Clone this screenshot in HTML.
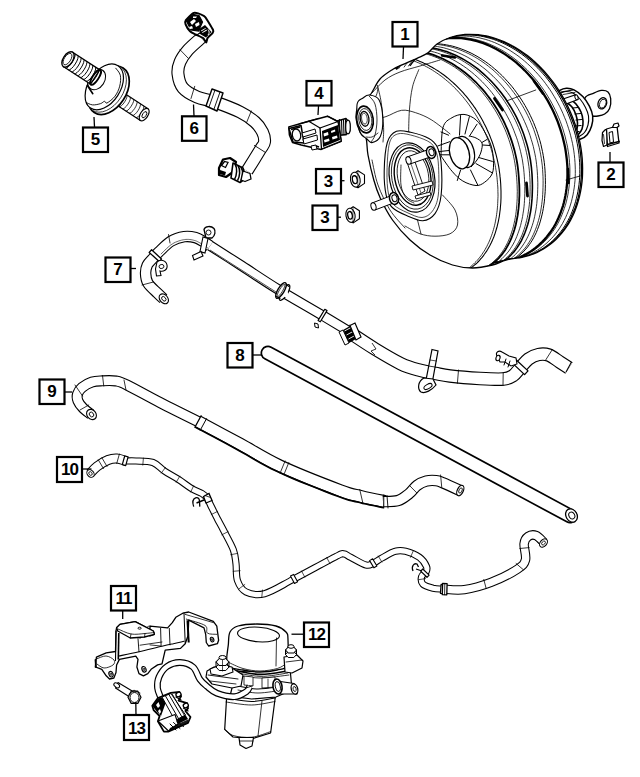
<!DOCTYPE html>
<html><head><meta charset="utf-8">
<style>
html,body{margin:0;padding:0;background:#fff;overflow:hidden;width:640px;height:777px;}
svg{display:block;}
.lb rect{fill:#fff;stroke:#000;stroke-width:2.2;}
.lb text{font-family:"Liberation Sans",sans-serif;font-weight:bold;font-size:17px;fill:#000;text-anchor:middle;}
.ln{stroke:#000;stroke-width:1.3;fill:none;}
.p{fill:#fff;stroke:#000;stroke-width:1.1;stroke-linejoin:round;stroke-linecap:round;}
.o{fill:none;stroke:#000;stroke-width:1.1;stroke-linejoin:round;stroke-linecap:round;}
.t{fill:none;stroke:#000;stroke-width:0.8;stroke-linecap:round;stroke-linejoin:round;}
.h{fill:none;stroke:#000;stroke-width:1.6;stroke-linecap:round;stroke-linejoin:round;}
.k{fill:#000;stroke:none;}
</style></head>
<body>
<svg width="640" height="777" viewBox="0 0 640 777">
<g><path d="M268,353 L570,516" stroke="#000" stroke-width="15" stroke-linecap="round"/><path d="M268,353 L570,516" stroke="#fff" stroke-width="11.6" stroke-linecap="round"/><ellipse cx="571.5" cy="515.5" rx="5.5" ry="7" transform="rotate(-30 571.5 515.5)" fill="#fff" stroke="#000" stroke-width="1.3"/>
<ellipse cx="571.8" cy="515.5" rx="2.8" ry="3.6" transform="rotate(-30 571.8 515.5)" fill="#fff" stroke="#000" stroke-width="1.0"/>
</g>
<path d="M91.0,414.5C89.7,413.4 85.2,410.2 83.0,408.0C80.8,405.8 78.9,403.3 78.0,401.0C77.1,398.7 76.8,396.2 77.5,394.0C78.2,391.8 79.6,389.5 82.0,387.5C84.4,385.5 88.6,383.1 92.0,382.0C95.4,380.9 98.5,381.0 102.5,380.8C106.5,380.6 111.9,380.3 116.0,381.0C120.1,381.7 119.7,381.4 127.0,385.0C134.3,388.6 147.8,396.2 160.0,402.5C172.2,408.8 193.3,419.2 200.0,422.5" fill="none" stroke="#000" stroke-width="11.0" stroke-linecap="butt" stroke-linejoin="round"/>
<path d="M91.0,414.5C89.7,413.4 85.2,410.2 83.0,408.0C80.8,405.8 78.9,403.3 78.0,401.0C77.1,398.7 76.8,396.2 77.5,394.0C78.2,391.8 79.6,389.5 82.0,387.5C84.4,385.5 88.6,383.1 92.0,382.0C95.4,380.9 98.5,381.0 102.5,380.8C106.5,380.6 111.9,380.3 116.0,381.0C120.1,381.7 119.7,381.4 127.0,385.0C134.3,388.6 147.8,396.2 160.0,402.5C172.2,408.8 193.3,419.2 200.0,422.5" fill="none" stroke="#fff" stroke-width="8.8" stroke-linecap="butt" stroke-linejoin="round"/>
<path d="M198.0,421.5C205.0,425.2 226.3,436.6 240.0,444.0C253.7,451.4 263.3,458.2 280.0,466.0C296.7,473.8 326.5,485.4 340.0,490.5C353.5,495.6 353.5,494.6 361.0,496.5C368.5,498.4 381.0,500.8 385.0,501.6" fill="none" stroke="#000" stroke-width="13.0" stroke-linecap="butt" stroke-linejoin="round"/>
<path d="M198.0,421.5C205.0,425.2 226.3,436.6 240.0,444.0C253.7,451.4 263.3,458.2 280.0,466.0C296.7,473.8 326.5,485.4 340.0,490.5C353.5,495.6 353.5,494.6 361.0,496.5C368.5,498.4 381.0,500.8 385.0,501.6" fill="none" stroke="#fff" stroke-width="10.7" stroke-linecap="butt" stroke-linejoin="round"/>
<path d="M383.0,501.6C385.5,501.4 393.7,501.9 398.0,500.6C402.3,499.3 405.8,496.2 409.0,493.7C412.2,491.2 414.1,487.6 417.0,485.5C419.9,483.4 423.2,481.8 426.4,481.0C429.6,480.2 433.2,480.3 436.0,480.6C438.8,480.9 438.8,481.1 443.0,482.8C447.2,484.5 458.0,489.6 461.0,491.0" fill="none" stroke="#000" stroke-width="11.5" stroke-linecap="butt" stroke-linejoin="round"/>
<path d="M383.0,501.6C385.5,501.4 393.7,501.9 398.0,500.6C402.3,499.3 405.8,496.2 409.0,493.7C412.2,491.2 414.1,487.6 417.0,485.5C419.9,483.4 423.2,481.8 426.4,481.0C429.6,480.2 433.2,480.3 436.0,480.6C438.8,480.9 438.8,481.1 443.0,482.8C447.2,484.5 458.0,489.6 461.0,491.0" fill="none" stroke="#fff" stroke-width="9.3" stroke-linecap="butt" stroke-linejoin="round"/>
<path d="M195.1,427.0 L198.3,428.7 L202.7,431.0 L207.8,433.8 L213.6,436.8 L219.6,440.1 L225.7,443.3 L231.6,446.5 L237.0,449.4 L241.9,452.2 L246.6,454.8 L251.1,457.5 L255.8,460.2 L260.6,463.0 L265.7,465.8 L271.3,468.7 L277.4,471.6 L284.3,474.7 L292.1,478.1 L300.4,481.6 L308.9,485.0 L317.2,488.3 L325.0,491.4 L332.0,494.1 L337.8,496.3 L342.4,498.0 L346.0,499.2 L348.9,500.1 L351.3,500.7 L353.3,501.2 L355.2,501.6 L357.2,502.0 L359.6,502.5 L362.6,503.3 L366.0,504.0 L369.6,504.8 L373.1,505.5 L376.4,506.2 L379.4,506.8 L381.9,507.3 L383.7,507.7" fill="none" stroke="#000" stroke-width="1.7"/>
<ellipse cx="91.5" cy="414.5" rx="4.5" ry="5.5" transform="rotate(-40 91.5 414.5)" fill="#fff" stroke="#000" stroke-width="1.1"/>
<ellipse cx="91.5" cy="414.5" rx="2" ry="2.6" transform="rotate(-40 91.5 414.5)" fill="#fff" stroke="#000" stroke-width="0.9"/>
<line x1="75" y1="385" x2="82.5" y2="396" stroke="#000" stroke-width="0.8" stroke-linecap="round"/>
<line x1="102.5" y1="375.5" x2="103.75" y2="386" stroke="#000" stroke-width="0.8" stroke-linecap="round"/>
<line x1="124" y1="380" x2="126" y2="390" stroke="#000" stroke-width="0.8" stroke-linecap="round"/>
<line x1="80" y1="410" x2="88.75" y2="405" stroke="#000" stroke-width="0.8" stroke-linecap="round"/>
<line x1="194.9" y1="427.2" x2="201.1" y2="415.8" stroke="#000" stroke-width="1.3" stroke-linecap="round"/>
<line x1="200.3" y1="430.1" x2="206.5" y2="418.7" stroke="#000" stroke-width="1.0" stroke-linecap="round"/>
<line x1="359.7" y1="489.4" x2="363" y2="503.6" stroke="#000" stroke-width="0.8" stroke-linecap="round"/>
<line x1="383.75" y1="495" x2="383.75" y2="508" stroke="#000" stroke-width="1.0" stroke-linecap="round"/>
<line x1="387" y1="495.5" x2="388" y2="508" stroke="#000" stroke-width="0.9" stroke-linecap="round"/>
<line x1="410" y1="486" x2="416.6" y2="492.7" stroke="#000" stroke-width="0.8" stroke-linecap="round"/>
<line x1="440.6" y1="475" x2="441.7" y2="487" stroke="#000" stroke-width="0.8" stroke-linecap="round"/>
<line x1="280.1" y1="473.1" x2="285.1" y2="461.0" stroke="#000" stroke-width="0.8" stroke-linecap="round"/>
<line x1="283.9" y1="474.6" x2="288.8" y2="462.6" stroke="#000" stroke-width="0.8" stroke-linecap="round"/>
<ellipse cx="460.3" cy="490.5" rx="3" ry="5.5" transform="rotate(25 460.3 490.5)" fill="#fff" stroke="#000" stroke-width="1.2"/>
<ellipse cx="460.5" cy="490.5" rx="1.5" ry="2.8" transform="rotate(25 460.5 490.5)" fill="#fff" stroke="#000" stroke-width="0.8"/>
<path d="M90.0,473.5C91.2,472.3 94.0,468.8 97.0,466.5C100.0,464.2 104.7,461.3 108.0,460.0C111.3,458.7 114.0,458.3 117.0,458.5C120.0,458.7 124.5,460.6 126.0,461.0" fill="none" stroke="#000" stroke-width="10.0" stroke-linecap="butt" stroke-linejoin="round"/>
<path d="M90.0,473.5C91.2,472.3 94.0,468.8 97.0,466.5C100.0,464.2 104.7,461.3 108.0,460.0C111.3,458.7 114.0,458.3 117.0,458.5C120.0,458.7 124.5,460.6 126.0,461.0" fill="none" stroke="#fff" stroke-width="8.0" stroke-linecap="butt" stroke-linejoin="round"/>
<ellipse cx="90.5" cy="473.5" rx="3.2" ry="4.2" transform="rotate(-40 90.5 473.5)" fill="#fff" stroke="#000" stroke-width="1.0"/>
<ellipse cx="90.5" cy="473.5" rx="1.5" ry="2" transform="rotate(-40 90.5 473.5)" fill="#fff" stroke="#000" stroke-width="0.8"/>
<line x1="103.4" y1="468.5" x2="98.3" y2="459.9" stroke="#000" stroke-width="0.8" stroke-linecap="round"/>
<line x1="107.0" y1="466.4" x2="101.9" y2="457.8" stroke="#000" stroke-width="0.8" stroke-linecap="round"/>
<line x1="116.7" y1="463.6" x2="119.4" y2="454.0" stroke="#000" stroke-width="0.8" stroke-linecap="round"/>
<path d="M126.0,461.0C127.7,461.0 131.5,460.8 136.0,461.0C140.5,461.2 148.3,460.8 153.0,462.5C157.7,464.2 160.2,468.2 164.4,471.0C168.6,473.8 173.9,476.5 178.4,479.4C182.9,482.3 187.8,486.2 191.7,488.6C195.6,491.0 199.4,491.9 202.0,493.5C204.6,495.1 205.5,495.9 207.0,498.0C208.5,500.1 209.2,502.5 211.0,506.0C212.8,509.5 215.4,515.0 217.5,519.0C219.6,523.0 220.8,524.9 223.4,530.0C226.0,535.1 231.2,544.1 233.3,549.7C235.4,555.3 235.3,558.6 236.0,563.7C236.7,568.9 235.8,575.9 237.5,580.6C239.2,585.3 241.5,589.7 246.0,591.9C250.5,594.1 256.6,595.8 264.5,593.7C272.4,591.6 281.8,585.3 293.7,579.1C305.6,572.9 327.7,560.7 336.0,556.5C344.3,552.3 341.3,553.8 343.8,553.9C346.2,554.0 346.9,555.4 350.6,557.3C354.3,559.1 362.3,564.0 366.0,565.0C369.7,566.0 370.4,564.5 373.0,563.4C375.6,562.3 377.9,560.2 381.6,558.2C385.3,556.2 391.3,552.4 395.3,551.3C399.3,550.1 401.6,550.3 405.6,551.3C409.6,552.3 415.9,554.8 419.4,557.3C422.9,559.8 425.4,564.0 426.5,566.5C427.6,569.0 426.8,570.3 426.0,572.0C425.2,573.7 422.1,574.5 421.6,576.5C421.1,578.5 420.9,582.0 422.8,584.0C424.7,586.0 429.7,587.4 433.1,588.3C436.5,589.1 437.9,588.9 443.1,589.1C448.3,589.3 456.4,590.7 464.4,589.6C472.4,588.5 482.1,585.8 491.0,582.4C499.9,579.0 511.8,572.9 517.5,569.1C523.2,565.3 524.4,564.0 525.5,559.8C526.6,555.6 523.7,547.8 524.1,543.9C524.5,540.0 526.1,537.7 528.1,536.5C530.1,535.3 533.4,535.3 536.0,536.5C538.6,537.7 542.7,542.7 544.0,543.9" fill="none" stroke="#000" stroke-width="7.2" stroke-linecap="butt" stroke-linejoin="round"/>
<path d="M126.0,461.0C127.7,461.0 131.5,460.8 136.0,461.0C140.5,461.2 148.3,460.8 153.0,462.5C157.7,464.2 160.2,468.2 164.4,471.0C168.6,473.8 173.9,476.5 178.4,479.4C182.9,482.3 187.8,486.2 191.7,488.6C195.6,491.0 199.4,491.9 202.0,493.5C204.6,495.1 205.5,495.9 207.0,498.0C208.5,500.1 209.2,502.5 211.0,506.0C212.8,509.5 215.4,515.0 217.5,519.0C219.6,523.0 220.8,524.9 223.4,530.0C226.0,535.1 231.2,544.1 233.3,549.7C235.4,555.3 235.3,558.6 236.0,563.7C236.7,568.9 235.8,575.9 237.5,580.6C239.2,585.3 241.5,589.7 246.0,591.9C250.5,594.1 256.6,595.8 264.5,593.7C272.4,591.6 281.8,585.3 293.7,579.1C305.6,572.9 327.7,560.7 336.0,556.5C344.3,552.3 341.3,553.8 343.8,553.9C346.2,554.0 346.9,555.4 350.6,557.3C354.3,559.1 362.3,564.0 366.0,565.0C369.7,566.0 370.4,564.5 373.0,563.4C375.6,562.3 377.9,560.2 381.6,558.2C385.3,556.2 391.3,552.4 395.3,551.3C399.3,550.1 401.6,550.3 405.6,551.3C409.6,552.3 415.9,554.8 419.4,557.3C422.9,559.8 425.4,564.0 426.5,566.5C427.6,569.0 426.8,570.3 426.0,572.0C425.2,573.7 422.1,574.5 421.6,576.5C421.1,578.5 420.9,582.0 422.8,584.0C424.7,586.0 429.7,587.4 433.1,588.3C436.5,589.1 437.9,588.9 443.1,589.1C448.3,589.3 456.4,590.7 464.4,589.6C472.4,588.5 482.1,585.8 491.0,582.4C499.9,579.0 511.8,572.9 517.5,569.1C523.2,565.3 524.4,564.0 525.5,559.8C526.6,555.6 523.7,547.8 524.1,543.9C524.5,540.0 526.1,537.7 528.1,536.5C530.1,535.3 533.4,535.3 536.0,536.5C538.6,537.7 542.7,542.7 544.0,543.9" fill="none" stroke="#fff" stroke-width="5.1" stroke-linecap="butt" stroke-linejoin="round"/>
<path d="M122.3,464.6L125.7,465.6L128.1,456.9L124.7,456.0Z" fill="#fff" stroke="#000" stroke-width="1.2" stroke-linejoin="round"/>
<line x1="142.8" y1="465.1" x2="143.4" y2="458.1" stroke="#000" stroke-width="0.7" stroke-linecap="round"/>
<line x1="161.3" y1="473.0" x2="165.5" y2="467.4" stroke="#000" stroke-width="0.7" stroke-linecap="round"/>
<line x1="176.2" y1="482.2" x2="179.8" y2="476.2" stroke="#000" stroke-width="0.7" stroke-linecap="round"/>
<line x1="190.7" y1="492.0" x2="193.7" y2="485.7" stroke="#000" stroke-width="0.7" stroke-linecap="round"/>
<line x1="204.3" y1="500.3" x2="209.0" y2="495.1" stroke="#000" stroke-width="0.7" stroke-linecap="round"/>
<line x1="211.3" y1="514.5" x2="217.6" y2="511.4" stroke="#000" stroke-width="0.7" stroke-linecap="round"/>
<line x1="221.9" y1="534.8" x2="228.1" y2="531.6" stroke="#000" stroke-width="0.7" stroke-linecap="round"/>
<line x1="230.7" y1="554.7" x2="237.6" y2="553.4" stroke="#000" stroke-width="0.7" stroke-linecap="round"/>
<line x1="233.2" y1="571.3" x2="240.1" y2="570.7" stroke="#000" stroke-width="0.7" stroke-linecap="round"/>
<line x1="239.2" y1="588.7" x2="244.8" y2="584.5" stroke="#000" stroke-width="0.7" stroke-linecap="round"/>
<line x1="261.8" y1="597.0" x2="262.5" y2="590.0" stroke="#000" stroke-width="0.7" stroke-linecap="round"/>
<line x1="304.8" y1="577.1" x2="301.5" y2="571.0" stroke="#000" stroke-width="0.7" stroke-linecap="round"/>
<line x1="330.0" y1="563.7" x2="326.7" y2="557.5" stroke="#000" stroke-width="0.7" stroke-linecap="round"/>
<line x1="381.9" y1="562.1" x2="378.3" y2="556.1" stroke="#000" stroke-width="0.7" stroke-linecap="round"/>
<line x1="410.5" y1="557.3" x2="413.3" y2="550.8" stroke="#000" stroke-width="0.7" stroke-linecap="round"/>
<line x1="418.6" y1="579.7" x2="425.5" y2="578.6" stroke="#000" stroke-width="0.7" stroke-linecap="round"/>
<line x1="451.2" y1="592.8" x2="451.4" y2="585.8" stroke="#000" stroke-width="0.7" stroke-linecap="round"/>
<line x1="491.3" y1="585.9" x2="489.5" y2="579.2" stroke="#000" stroke-width="0.7" stroke-linecap="round"/>
<line x1="517.5" y1="573.0" x2="514.4" y2="566.7" stroke="#000" stroke-width="0.7" stroke-linecap="round"/>
<path d="M294.5,583.4L297.6,581.8L293.6,574.4L290.5,576.0Z" fill="#fff" stroke="#000" stroke-width="1.1" stroke-linejoin="round"/>
<path d="M373.9,567.8L376.9,566.0L372.6,558.8L369.6,560.6Z" fill="#fff" stroke="#000" stroke-width="1.1" stroke-linejoin="round"/>
<path d="M440.4,593.4L444.4,593.7L445.1,584.7L441.1,584.4Z" fill="#fff" stroke="#000" stroke-width="1.2" stroke-linejoin="round"/>
<path d="M422.8,569.0L420.7,571.1L427.0,577.3L429.1,575.1Z" fill="#fff" stroke="#000" stroke-width="1.2" stroke-linejoin="round"/>
<path d="M413,571 C411,566 414,563 417,564 L418.5,567" fill="none" stroke="#000" stroke-width="1.3"/>
<path d="M416,569 L422,571" stroke="#000" stroke-width="1.3"/>
<path d="M443.1,589.1C446.7,589.2 456.4,590.7 464.4,589.6C472.4,588.5 482.1,585.8 491.0,582.4C499.9,579.0 511.8,572.9 517.5,569.1C523.2,565.3 524.4,564.0 525.5,559.8C526.6,555.6 523.7,547.8 524.1,543.9C524.5,540.0 526.1,537.9 528.1,536.5C530.1,535.1 533.4,534.5 536.0,535.5C538.6,536.5 542.7,541.3 544.0,542.5" fill="none" stroke="#000" stroke-width="9.5" stroke-linecap="butt" stroke-linejoin="round"/>
<path d="M443.1,589.1C446.7,589.2 456.4,590.7 464.4,589.6C472.4,588.5 482.1,585.8 491.0,582.4C499.9,579.0 511.8,572.9 517.5,569.1C523.2,565.3 524.4,564.0 525.5,559.8C526.6,555.6 523.7,547.8 524.1,543.9C524.5,540.0 526.1,537.9 528.1,536.5C530.1,535.1 533.4,534.5 536.0,535.5C538.6,536.5 542.7,541.3 544.0,542.5" fill="none" stroke="#fff" stroke-width="7.4" stroke-linecap="butt" stroke-linejoin="round"/>
<path d="M442.3,594.7L446.8,594.8L447.1,583.6L442.6,583.5Z" fill="#fff" stroke="#000" stroke-width="1.3" stroke-linejoin="round"/>
<line x1="444.6" y1="594.7" x2="444.8" y2="583.5" stroke="#000" stroke-width="0.8" stroke-linecap="round"/>
<line x1="486.2" y1="588.6" x2="483.8" y2="579.5" stroke="#000" stroke-width="0.8" stroke-linecap="round"/>
<line x1="523.2" y1="569.6" x2="516.1" y2="563.5" stroke="#000" stroke-width="0.8" stroke-linecap="round"/>
<line x1="529.1" y1="547.6" x2="519.8" y2="548.5" stroke="#000" stroke-width="0.8" stroke-linecap="round"/>
<ellipse cx="543.5" cy="543" rx="3.2" ry="4.8" transform="rotate(40 543.5 543)" fill="#fff" stroke="#000" stroke-width="1.1"/>
<ellipse cx="543.5" cy="543" rx="1.5" ry="2.3" transform="rotate(40 543.5 543)" fill="#fff" stroke="#000" stroke-width="0.8"/>
<path d="M193.7,506.6 C192.5,503 192.5,499 195.6,497.8 C198,497 199.5,498.5 199.5,501.5 L199.8,506.6" fill="none" stroke="#000" stroke-width="1.3"/>
<path d="M196.5,503 L204,500" stroke="#000" stroke-width="1.4"/>
<path d="M203.5,496.5 L209,493.5 L212,500.5 L206,503 Z" fill="#fff" stroke="#000" stroke-width="1.3"/>
<line x1="205" y1="495.5" x2="210.5" y2="497.5" stroke="#000" stroke-width="0.8" stroke-linecap="round"/>
<path d="M346.0,330.0C350.8,333.2 365.8,343.4 375.0,349.0C384.2,354.6 393.5,360.2 401.0,363.8C408.5,367.3 414.3,368.7 420.0,370.3C425.7,371.9 430.0,372.4 435.0,373.4C440.0,374.3 442.5,375.1 450.0,376.0C457.5,376.9 471.1,378.0 480.0,378.5C488.9,379.0 497.9,379.5 503.4,379.0C508.9,378.5 510.1,377.6 513.0,375.7C515.9,373.8 517.9,370.3 520.5,367.5C523.1,364.7 525.5,361.2 528.5,359.0C531.5,356.8 535.2,355.2 538.6,354.5C542.0,353.8 545.2,353.8 548.7,355.0C552.2,356.2 556.3,359.8 559.7,362.0C563.1,364.2 567.5,367.0 569.0,368.0" fill="none" stroke="#000" stroke-width="13.5" stroke-linecap="butt" stroke-linejoin="round"/>
<path d="M346.0,330.0C350.8,333.2 365.8,343.4 375.0,349.0C384.2,354.6 393.5,360.2 401.0,363.8C408.5,367.3 414.3,368.7 420.0,370.3C425.7,371.9 430.0,372.4 435.0,373.4C440.0,374.3 442.5,375.1 450.0,376.0C457.5,376.9 471.1,378.0 480.0,378.5C488.9,379.0 497.9,379.5 503.4,379.0C508.9,378.5 510.1,377.6 513.0,375.7C515.9,373.8 517.9,370.3 520.5,367.5C523.1,364.7 525.5,361.2 528.5,359.0C531.5,356.8 535.2,355.2 538.6,354.5C542.0,353.8 545.2,353.8 548.7,355.0C552.2,356.2 556.3,359.8 559.7,362.0C563.1,364.2 567.5,367.0 569.0,368.0" fill="none" stroke="#fff" stroke-width="11.3" stroke-linecap="butt" stroke-linejoin="round"/>
<path d="M206.0,243.0C212.0,246.8 230.1,258.3 242.0,266.0C253.9,273.7 264.5,281.0 277.5,289.0C290.5,297.0 307.9,306.8 320.0,314.0C332.1,321.2 345.0,329.0 350.0,332.0" fill="none" stroke="#000" stroke-width="10.5" stroke-linecap="butt" stroke-linejoin="round"/>
<path d="M206.0,243.0C212.0,246.8 230.1,258.3 242.0,266.0C253.9,273.7 264.5,281.0 277.5,289.0C290.5,297.0 307.9,306.8 320.0,314.0C332.1,321.2 345.0,329.0 350.0,332.0" fill="none" stroke="#fff" stroke-width="8.3" stroke-linecap="butt" stroke-linejoin="round"/>
<path d="M210,250 L276,292" stroke="#000" stroke-width="0.7"/>
<path d="M163.5,298.8C162.5,297.9 160.1,295.7 157.5,293.1C154.9,290.5 150.0,286.6 148.0,283.3C146.0,280.0 145.7,276.6 145.6,273.5C145.5,270.4 146.2,267.4 147.3,265.0C148.5,262.6 150.6,261.0 152.5,258.8C154.4,256.6 155.7,254.9 158.8,252.0C161.9,249.1 166.8,243.8 171.0,241.2C175.2,238.6 180.1,237.2 184.2,236.6C188.3,236.0 192.2,236.7 195.5,237.6C198.8,238.5 201.6,240.5 204.0,241.9C206.4,243.3 209.0,245.3 210.0,246.0" fill="none" stroke="#000" stroke-width="11.5" stroke-linecap="butt" stroke-linejoin="round"/>
<path d="M163.5,298.8C162.5,297.9 160.1,295.7 157.5,293.1C154.9,290.5 150.0,286.6 148.0,283.3C146.0,280.0 145.7,276.6 145.6,273.5C145.5,270.4 146.2,267.4 147.3,265.0C148.5,262.6 150.6,261.0 152.5,258.8C154.4,256.6 155.7,254.9 158.8,252.0C161.9,249.1 166.8,243.8 171.0,241.2C175.2,238.6 180.1,237.2 184.2,236.6C188.3,236.0 192.2,236.7 195.5,237.6C198.8,238.5 201.6,240.5 204.0,241.9C206.4,243.3 209.0,245.3 210.0,246.0" fill="none" stroke="#fff" stroke-width="9.3" stroke-linecap="butt" stroke-linejoin="round"/>
<path d="M160.9,254.2 L162.1,252.9 L163.5,251.6 L165.0,250.1 L166.5,248.6 L168.1,247.2 L169.6,245.9 L171.1,244.7 L172.6,243.8 L174.0,242.9 L175.5,242.2 L177.1,241.6 L178.6,241.0 L180.2,240.5 L181.7,240.1 L183.2,239.8 L184.6,239.6 L185.9,239.4 L187.2,239.4 L188.5,239.4 L189.8,239.5 L191.1,239.7 L192.3,239.9 L193.5,240.2 L194.7,240.5 L195.7,240.8 L196.7,241.2 L197.7,241.7 L198.6,242.2 L199.6,242.7 L200.6,243.3 L201.5,243.9 L202.5,244.5 L203.3,245.0 L204.2,245.5 L205.0,246.1 L205.8,246.7 L206.5,247.2 L207.2,247.7 L207.8,248.1 L208.3,248.5" fill="none" stroke="#000" stroke-width="0.6"/>
<ellipse cx="163.8" cy="298.8" rx="4" ry="5.5" transform="rotate(-40 163.8 298.8)" fill="#fff" stroke="#000" stroke-width="1.1"/>
<ellipse cx="163.8" cy="298.8" rx="1.8" ry="2.6" transform="rotate(-40 163.8 298.8)" fill="#fff" stroke="#000" stroke-width="0.9"/>
<line x1="168.5" y1="234.5" x2="170" y2="243" stroke="#000" stroke-width="0.8" stroke-linecap="round"/>
<line x1="142" y1="285" x2="153.5" y2="282" stroke="#000" stroke-width="0.8" stroke-linecap="round"/>
<path d="M159.2,261.6L161.5,259.0L151.6,249.8L149.2,252.4Z" fill="#fff" stroke="#000" stroke-width="1.3" stroke-linejoin="round"/>
<path d="M157,262 C160,259 166,260 167,265 C168,270 163,272 160,271 L161,275.5 L156.5,276 L155.5,269 Z" fill="#fff" stroke="#000" stroke-width="1.1"/>
<ellipse cx="161.5" cy="266.5" rx="2.5" ry="2" transform="rotate(-10 161.5 266.5)" fill="#fff" stroke="#000" stroke-width="0.9"/>
<path d="M204,229.5 C205,226 211,225.5 214,228.5 C216,231 215,236 212,238 L206,238 Z" fill="#fff" stroke="#000" stroke-width="1.3"/>
<ellipse cx="208.5" cy="232.5" rx="2.5" ry="2.5" transform="rotate(0 208.5 232.5)" fill="#fff" stroke="#000" stroke-width="0.9"/>
<path d="M203,237 L208,238.5 L205,253 L200,251.5 Z" fill="#fff" stroke="#000" stroke-width="1.1"/>
<path d="M192.5,255.5 L201,251.5 L203,256 L194,260 Z" fill="#fff" stroke="#000" stroke-width="1.1"/>
<ellipse cx="284.5" cy="292.5" rx="3.2" ry="9" transform="rotate(31 284.5 292.5)" fill="#fff" stroke="#000" stroke-width="1.3"/>
<path d="M280.5,285 L286.5,288.5 L290.5,300 L284,296.5 Z" fill="#fff" stroke="none"/>
<ellipse cx="281" cy="290.5" rx="3.2" ry="9" transform="rotate(31 281 290.5)" fill="#fff" stroke="#000" stroke-width="1.4"/>
<line x1="286" y1="284.5" x2="289" y2="286.5" stroke="#000" stroke-width="1.1" stroke-linecap="round"/>
<line x1="276.5" y1="296.5" x2="280" y2="298.5" stroke="#000" stroke-width="1.1" stroke-linecap="round"/>
<ellipse cx="281" cy="290.5" rx="1.6" ry="7" transform="rotate(31 281 290.5)" fill="#fff" stroke="#000" stroke-width="0.7"/>
<path d="M318.1,320.4L320.3,321.8L327.0,310.6L324.8,309.3Z" fill="#fff" stroke="#000" stroke-width="1.2" stroke-linejoin="round"/>
<path d="M314.5,323 L318,324 L318.5,328 L315,327 Z" fill="#fff" stroke="#000" stroke-width="1.0"/>
<path d="M343,330 L350,326 L356,339 L349,343 Z" fill="#000"/>
<path d="M344.5,331 L351,327.5 M346.5,335 L353,331.5 M348.5,339 L355,335.5" stroke="#fff" stroke-width="0.9"/>
<path d="M350,325.5 L355,323 L361,337 L356,340 Z" fill="#fff" stroke="#000" stroke-width="1.2"/>
<path d="M339,332 L343,330 L349,343 L345,345 Z" fill="#fff" stroke="#000" stroke-width="1.0"/>
<path d="M372,343 L376,349 L371,351 L375,355" fill="none" stroke="#000" stroke-width="0.8"/>
<line x1="457.4" y1="383.3" x2="458.5" y2="370.0" stroke="#000" stroke-width="0.8" stroke-linecap="round"/>
<path d="M432,349.5 L438,351 L432.5,381 L426,380 Z" fill="#fff" stroke="#000" stroke-width="1.2"/>
<line x1="428.5" y1="366" x2="435" y2="367" stroke="#000" stroke-width="0.8" stroke-linecap="round"/>
<line x1="430" y1="360" x2="436.5" y2="361" stroke="#000" stroke-width="0.7" stroke-linecap="round"/>
<path d="M424,378 C418,381 417,389 421,392 C425,394 432,390 436,385 L433,379 Z" fill="#fff" stroke="#000" stroke-width="1.2"/>
<ellipse cx="428" cy="386.5" rx="4.5" ry="2.2" transform="rotate(-30 428 386.5)" fill="#fff" stroke="#000" stroke-width="1.0"/>
<path d="M524.6,374.6L528.0,370.9L516.6,360.2L513.2,363.9Z" fill="#fff" stroke="#000" stroke-width="1.3" stroke-linejoin="round"/>
<path d="M497,356 C495,352 499,350 502,352 L509,356 L516,358 L517,364 L511,366 L505,362 L500,362 Z" fill="#fff" stroke="#000" stroke-width="1.1"/>
<ellipse cx="498" cy="358" rx="2" ry="2.8" transform="rotate(20 498 358)" fill="#fff" stroke="#000" stroke-width="1.1"/>
<line x1="506" y1="359" x2="504" y2="365" stroke="#000" stroke-width="1.0" stroke-linecap="round"/>
<line x1="510" y1="361" x2="508" y2="367" stroke="#000" stroke-width="1.0" stroke-linecap="round"/>
<line x1="503.0" y1="385.5" x2="503.2" y2="372.5" stroke="#000" stroke-width="0.8" stroke-linecap="round"/>
<line x1="545.3" y1="360.6" x2="552.3" y2="349.6" stroke="#000" stroke-width="0.8" stroke-linecap="round"/>
<path d="M566,372 L571.5,362" stroke="#000" stroke-width="1.1"/>
<path d="M585.0,98.0C586.3,94.5 591.0,94.4 593.8,93.1C596.5,91.8 599.0,90.6 601.4,90.4C603.8,90.2 606.5,90.6 608.0,92.0C609.5,93.4 610.4,95.9 610.7,98.6C611.0,101.3 610.6,105.8 609.6,108.4C608.6,111.0 606.6,112.7 604.7,114.0C602.8,115.3 600.2,115.7 598.0,116.0C595.8,116.3 593.6,116.3 591.6,116.0C589.6,115.7 587.1,117.0 586.0,114.0C584.9,111.0 583.7,101.5 585.0,98.0Z" fill="#fff" stroke="#000" stroke-width="1.3"/>
<ellipse cx="602.3" cy="103.3" rx="4.2" ry="5.8" transform="rotate(20 602.3 103.3)" fill="#fff" stroke="#000" stroke-width="1.3"/>
<ellipse cx="602.8" cy="103.6" rx="3" ry="4.6" transform="rotate(20 602.8 103.6)" fill="#fff" stroke="#000" stroke-width="0.8"/>
<path d="M556.0,95.0C555.1,88.4 558.1,91.5 559.8,90.4C561.5,89.3 564.0,88.3 566.4,88.2C568.8,88.1 571.3,88.4 574.0,89.8C576.7,91.2 580.2,93.7 582.8,96.4C585.4,99.1 587.8,103.0 589.4,106.2C591.0,109.5 592.3,112.7 592.7,116.0C593.1,119.3 592.5,122.9 591.6,126.0C590.7,129.1 589.0,132.5 587.2,134.7C585.4,136.9 582.8,138.2 580.6,139.0C578.4,139.8 576.6,141.1 574.0,139.6C571.4,138.1 568.0,137.4 565.0,130.0C562.0,122.6 556.9,101.6 556.0,95.0Z" fill="#fff" stroke="#000" stroke-width="1.5"/>
<path class="o" d="M561.0,93.0C561.8,92.8 564.0,91.5 566.0,91.5C568.0,91.5 570.7,91.8 573.0,93.0C575.3,94.2 577.9,96.6 580.0,99.0C582.1,101.4 584.1,104.7 585.5,107.5C586.9,110.3 588.1,113.1 588.5,116.0C588.9,118.9 588.7,122.2 588.0,125.0C587.3,127.8 586.1,130.5 584.5,132.5C582.9,134.5 579.5,136.2 578.5,137.0"/>
<path class="h" d="M570.0,99.0C571.0,99.8 574.2,101.8 576.0,104.0C577.8,106.2 579.8,109.2 581.0,112.0C582.2,114.8 582.8,118.2 583.0,121.0C583.2,123.8 582.8,126.7 582.0,129.0C581.2,131.3 578.7,134.0 578.0,135.0" stroke-width="2.4"/>
<path class="h" d="M566.0,102.0C567.0,102.8 570.3,104.8 572.0,107.0C573.7,109.2 575.1,112.3 576.0,115.0C576.9,117.7 577.4,120.3 577.5,123.0C577.6,125.7 577.2,128.7 576.5,131.0C575.8,133.3 573.6,136.0 573.0,137.0" stroke-width="2.0"/>
<path class="t" d="M563.0,104.0C563.8,105.0 566.7,107.7 568.0,110.0C569.3,112.3 570.3,115.3 571.0,118.0C571.7,120.7 572.0,123.5 572.0,126.0C572.0,128.5 571.2,131.8 571.0,133.0"/>
<line x1="572.5" y1="108" x2="578" y2="107.5" stroke="#000" stroke-width="1.2" stroke-linecap="round"/>
<line x1="575.0" y1="114" x2="580.5" y2="113.5" stroke="#000" stroke-width="1.2" stroke-linecap="round"/>
<line x1="576.0" y1="120" x2="581.5" y2="119.5" stroke="#000" stroke-width="1.2" stroke-linecap="round"/>
<line x1="575.5" y1="126" x2="581" y2="125.5" stroke="#000" stroke-width="1.2" stroke-linecap="round"/>
<line x1="573.5" y1="132" x2="579" y2="131.5" stroke="#000" stroke-width="1.2" stroke-linecap="round"/>
<path d="M563,99 L575,95 L578,99.5 L566,104 Z" fill="#fff" stroke="#000" stroke-width="1.1"/>
<ellipse cx="576.5" cy="97.3" rx="1.5" ry="2.5" transform="rotate(-20 576.5 97.3)" fill="#fff" stroke="#000" stroke-width="1.0"/>
<line x1="561" y1="92" x2="573" y2="90" stroke="#000" stroke-width="1.0" stroke-linecap="round"/>
<line x1="563" y1="94.5" x2="575" y2="92.5" stroke="#000" stroke-width="0.8" stroke-linecap="round"/>
<path d="M358.0,106.0C359.0,103.2 359.9,102.9 362.0,101.0C364.1,99.1 367.3,98.4 370.3,94.7C373.3,91.0 376.2,83.2 380.0,79.0C383.8,74.8 389.3,71.6 393.0,69.2C396.7,66.8 398.0,66.6 402.0,64.8C406.0,63.0 412.7,60.3 417.0,58.3C421.3,56.3 424.7,55.2 428.0,52.8C431.3,50.4 433.3,46.5 437.0,44.0C440.7,41.5 445.3,39.1 450.0,37.5C454.7,35.9 460.1,35.0 465.0,34.5C469.9,34.0 475.6,34.5 479.4,34.8C483.2,35.1 484.9,35.6 487.6,36.2C490.3,36.9 493.1,37.6 495.8,38.5C498.5,39.4 501.2,40.5 503.9,41.6C506.6,42.8 509.3,44.1 511.9,45.6C514.6,47.0 517.2,48.5 519.8,50.2C522.3,51.9 524.9,53.7 527.4,55.6C529.9,57.6 532.3,59.6 534.7,61.7C537.1,63.9 539.4,66.1 541.6,68.5C543.9,70.8 546.1,73.3 548.2,75.8C550.3,78.4 552.4,81.0 554.3,83.7C556.3,86.4 558.1,89.2 559.9,92.1C561.7,94.9 563.4,97.8 565.0,100.8C566.6,103.8 568.1,106.9 569.5,109.9C570.9,113.0 572.2,116.2 573.3,119.3C574.5,122.5 575.6,125.7 576.6,128.9C577.5,132.1 578.4,135.4 579.1,138.7C579.9,141.9 580.5,145.2 581.0,148.4C581.5,151.7 581.9,155.0 582.2,158.2C582.4,161.5 582.6,164.7 582.6,167.9C582.6,171.1 582.6,174.3 582.4,177.4C582.2,180.6 581.8,183.7 581.4,186.7C580.9,189.7 580.4,192.8 579.7,195.7C579.0,198.6 578.2,201.5 577.3,204.3C576.4,207.1 575.4,209.8 574.3,212.4C573.2,215.1 571.9,217.6 570.6,220.1C569.3,222.6 567.8,224.9 566.3,227.2C564.8,229.5 563.1,231.6 561.4,233.7C559.7,235.7 557.8,237.7 555.9,239.5C554.0,241.3 552.0,243.0 550.0,244.6C547.9,246.2 545.7,247.7 543.5,249.0C541.3,250.3 539.0,251.5 536.7,252.6C534.3,253.6 531.9,254.5 529.4,255.3C527.0,256.1 525.8,256.5 521.9,257.3C518.0,258.1 510.9,258.7 506.0,260.0C501.1,261.3 498.1,263.7 492.5,265.0C486.9,266.3 479.2,268.0 472.5,268.0C465.8,268.0 459.6,267.2 452.5,265.0C445.4,262.8 437.1,259.2 430.0,255.0C422.9,250.8 416.2,245.8 410.0,240.0C403.8,234.2 397.5,227.1 392.5,220.0C387.5,212.9 383.1,204.2 380.0,197.5C376.9,190.8 375.8,187.1 373.8,180.0C371.8,172.9 369.3,162.0 368.0,155.0C366.7,148.0 367.3,141.8 366.0,138.0C364.7,134.2 361.7,135.3 360.0,132.0C358.3,128.7 356.3,122.3 356.0,118.0C355.7,113.7 357.0,108.8 358.0,106.0Z" fill="#fff" stroke="none"/>
<clipPath id="bsil"><path d="M358.0,106.0C359.0,103.2 359.9,102.9 362.0,101.0C364.1,99.1 367.3,98.4 370.3,94.7C373.3,91.0 376.2,83.2 380.0,79.0C383.8,74.8 389.3,71.6 393.0,69.2C396.7,66.8 398.0,66.6 402.0,64.8C406.0,63.0 412.7,60.3 417.0,58.3C421.3,56.3 424.7,55.2 428.0,52.8C431.3,50.4 433.3,46.5 437.0,44.0C440.7,41.5 445.3,39.1 450.0,37.5C454.7,35.9 460.1,35.0 465.0,34.5C469.9,34.0 475.6,34.5 479.4,34.8C483.2,35.1 484.9,35.6 487.6,36.2C490.3,36.9 493.1,37.6 495.8,38.5C498.5,39.4 501.2,40.5 503.9,41.6C506.6,42.8 509.3,44.1 511.9,45.6C514.6,47.0 517.2,48.5 519.8,50.2C522.3,51.9 524.9,53.7 527.4,55.6C529.9,57.6 532.3,59.6 534.7,61.7C537.1,63.9 539.4,66.1 541.6,68.5C543.9,70.8 546.1,73.3 548.2,75.8C550.3,78.4 552.4,81.0 554.3,83.7C556.3,86.4 558.1,89.2 559.9,92.1C561.7,94.9 563.4,97.8 565.0,100.8C566.6,103.8 568.1,106.9 569.5,109.9C570.9,113.0 572.2,116.2 573.3,119.3C574.5,122.5 575.6,125.7 576.6,128.9C577.5,132.1 578.4,135.4 579.1,138.7C579.9,141.9 580.5,145.2 581.0,148.4C581.5,151.7 581.9,155.0 582.2,158.2C582.4,161.5 582.6,164.7 582.6,167.9C582.6,171.1 582.6,174.3 582.4,177.4C582.2,180.6 581.8,183.7 581.4,186.7C580.9,189.7 580.4,192.8 579.7,195.7C579.0,198.6 578.2,201.5 577.3,204.3C576.4,207.1 575.4,209.8 574.3,212.4C573.2,215.1 571.9,217.6 570.6,220.1C569.3,222.6 567.8,224.9 566.3,227.2C564.8,229.5 563.1,231.6 561.4,233.7C559.7,235.7 557.8,237.7 555.9,239.5C554.0,241.3 552.0,243.0 550.0,244.6C547.9,246.2 545.7,247.7 543.5,249.0C541.3,250.3 539.0,251.5 536.7,252.6C534.3,253.6 531.9,254.5 529.4,255.3C527.0,256.1 525.8,256.5 521.9,257.3C518.0,258.1 510.9,258.7 506.0,260.0C501.1,261.3 498.1,263.7 492.5,265.0C486.9,266.3 479.2,268.0 472.5,268.0C465.8,268.0 459.6,267.2 452.5,265.0C445.4,262.8 437.1,259.2 430.0,255.0C422.9,250.8 416.2,245.8 410.0,240.0C403.8,234.2 397.5,227.1 392.5,220.0C387.5,212.9 383.1,204.2 380.0,197.5C376.9,190.8 375.8,187.1 373.8,180.0C371.8,172.9 369.3,162.0 368.0,155.0C366.7,148.0 367.3,141.8 366.0,138.0C364.7,134.2 361.7,135.3 360.0,132.0C358.3,128.7 356.3,122.3 356.0,118.0C355.7,113.7 357.0,108.8 358.0,106.0Z"/></clipPath>
<g clip-path="url(#bsil)">
<path d="M402.6,57.6 L404.6,58.1 L406.6,58.6 L408.6,59.2 L410.6,59.9 L412.7,60.6 L414.7,61.3 L416.7,62.1 L418.7,62.9 L420.7,63.8 L422.6,64.8 L424.6,65.7 L426.6,66.8 L428.5,67.8 L430.5,69.0 L432.4,70.1 L434.3,71.4 L436.2,72.6 L438.1,73.9 L440.0,75.3 L441.9,76.6 L443.7,78.1 L445.5,79.6 L447.3,81.1 L449.1,82.6 L450.9,84.2 L452.6,85.8 L454.3,87.5 L456.0,89.2 L457.7,91.0 L459.3,92.7 L460.9,94.6 L462.5,96.4 L464.1,98.3 L465.6,100.2 L467.1,102.1 L468.6,104.1 L470.0,106.1 L471.4,108.2 L472.8,110.2 L474.2,112.3 L475.5,114.4 L476.8,116.6 L478.0,118.7 L479.3,120.9 L480.4,123.1 L481.6,125.3 L482.7,127.6 L483.8,129.9 L484.8,132.1 L485.8,134.4 L486.8,136.7 L487.7,139.1 L488.6,141.4 L489.4,143.8 L490.2,146.1 L491.0,148.5 L491.7,150.9 L492.4,153.3 L493.0,155.7 L493.6,158.1 L494.2,160.5 L494.7,162.9 L495.2,165.3 L495.6,167.7 L496.0,170.2 L496.4,172.6 L496.7,175.0 L497.0,177.4 L497.2,179.8 L497.4,182.2 L497.6,184.6 L497.8,187.0 L497.9,189.4 L497.9,191.7 L498.0,194.1 L498.0,196.4 L497.9,198.8 L497.8,201.1 L497.7,203.4 L497.6,205.6 L497.4,207.9 L497.2,210.2 L496.9,212.4 L496.6,214.6 L496.3,216.8 L495.9,218.9 L495.5,221.1 L495.1,223.2 L494.6,225.3 L494.1,227.3 L493.5,229.4 L492.9,231.4 L492.3,233.4 L491.6,235.3 L490.9,237.2 L490.2,239.1 L489.4,241.0 L488.6,242.8 L487.7,244.5 L486.9,246.3 L485.9,248.0 L485.0,249.7 L484.0,251.3 L482.9,252.9 L481.9,254.5 L480.8,256.0 L479.6,257.4 L478.5,258.9 L477.3,260.3 L476.0,261.6 L474.7,262.9 L473.4,264.2 L472.1,265.4 L470.7,266.6 L469.3,267.7 L467.9,268.8 L466.4,269.8 L464.9,270.8 L463.4,271.7 L461.8,272.6" fill="none" stroke="#000" stroke-width="0.8"/>
<path d="M405.7,56.8 L407.7,57.3 L409.8,57.9 L411.8,58.5 L413.9,59.1 L415.9,59.8 L417.9,60.6 L420.0,61.4 L422.0,62.2 L424.0,63.2 L426.0,64.1 L428.0,65.1 L430.0,66.2 L432.0,67.3 L434.0,68.4 L435.9,69.6 L437.8,70.8 L439.8,72.1 L441.7,73.5 L443.6,74.8 L445.5,76.3 L447.3,77.7 L449.1,79.2 L451.0,80.8 L452.8,82.4 L454.5,84.0 L456.3,85.7 L458.0,87.4 L459.7,89.1 L461.4,90.9 L463.1,92.7 L464.7,94.6 L466.3,96.4 L467.9,98.4 L469.4,100.3 L470.9,102.3 L472.4,104.3 L473.8,106.4 L475.3,108.4 L476.6,110.5 L478.0,112.7 L479.3,114.8 L480.6,117.0 L481.9,119.2 L483.1,121.4 L484.2,123.7 L485.4,126.0 L486.5,128.2 L487.5,130.6 L488.6,132.9 L489.6,135.2 L490.5,137.6 L491.4,139.9 L492.3,142.3 L493.1,144.7 L493.9,147.1 L494.6,149.5 L495.3,152.0 L496.0,154.4 L496.6,156.8 L497.2,159.3 L497.7,161.7 L498.2,164.2 L498.7,166.6 L499.1,169.1 L499.4,171.5 L499.8,174.0 L500.0,176.4 L500.3,178.8 L500.5,181.3 L500.7,183.7 L500.8,186.1 L500.9,188.5 L501.0,190.9 L501.0,193.3 L501.0,195.7 L501.0,198.0 L500.9,200.4 L500.8,202.7 L500.6,205.0 L500.4,207.3 L500.2,209.6 L499.9,211.8 L499.6,214.1 L499.3,216.3 L498.9,218.5 L498.5,220.6 L498.0,222.8 L497.5,224.9 L497.0,227.0 L496.4,229.0 L495.8,231.1 L495.2,233.1 L494.5,235.0 L493.8,237.0 L493.0,238.9 L492.2,240.7 L491.4,242.5 L490.5,244.3 L489.6,246.1 L488.6,247.8 L487.6,249.5 L486.6,251.1 L485.5,252.7 L484.4,254.3 L483.3,255.8 L482.1,257.3 L480.9,258.7 L479.7,260.1 L478.4,261.5 L477.1,262.8 L475.8,264.0 L474.4,265.2 L473.0,266.4 L471.5,267.5 L470.0,268.6 L468.5,269.6 L467.0,270.6 L465.4,271.5 L463.8,272.3 L462.2,273.2" fill="none" stroke="#000" stroke-width="1.1"/>
<path d="M345.4,82.1 L347.1,79.7 L348.8,77.4 L350.7,75.2 L352.6,73.1 L354.5,71.0 L356.6,69.0 L358.7,67.2 L360.9,65.4 L363.1,63.7 L365.4,62.1 L367.8,60.6 L370.2,59.2 L372.6,57.9 L375.1,56.7 L377.7,55.7 L380.3,54.7 L382.9,53.8 L385.6,53.0 L388.3,52.4 L391.0,51.8 L393.8,51.4 L396.6,51.1 L399.4,50.8 L402.3,50.7 L405.2,50.7 L408.1,50.8 L411.0,51.0 L413.9,51.4 L416.8,51.8 L419.7,52.3 L422.7,53.0 L425.6,53.8 L428.5,54.6 L431.5,55.6 L434.4,56.7 L437.3,57.8 L440.2,59.1 L443.1,60.5 L445.9,62.0 L448.8,63.6 L451.6,65.3 L454.4,67.0 L457.1,68.9 L459.8,70.9 L462.5,72.9 L465.1,75.1 L467.7,77.3 L470.3,79.6 L472.8,82.0 L475.3,84.5 L477.7,87.0 L480.1,89.6 L482.4,92.3 L484.6,95.1 L486.8,97.9 L488.9,100.8 L491.0,103.8 L492.9,106.8 L494.9,109.8 L496.7,112.9 L498.5,116.1 L500.2,119.3 L501.8,122.6 L503.4,125.9 L504.9,129.2 L506.3,132.6 L507.6,136.0 L508.8,139.4 L509.9,142.8 L511.0,146.3 L512.0,149.8 L512.9,153.3 L513.7,156.8 L514.4,160.3 L515.0,163.8 L515.5,167.3 L516.0,170.8 L516.3,174.3 L516.7,177.8 L516.9,181.2 L517.1,184.7 L517.2,188.1 L517.3,191.5 L517.2,194.9 L517.2,198.3 L517.0,201.6 L516.8,204.9 L516.5,208.1 L516.2,211.3 L515.8,214.4 L515.3,217.5 L514.7,220.6 L514.1,223.5 L513.4,226.5 L512.6,229.3 L511.7,232.1 L510.8,234.9 L509.8,237.5 L508.7,240.1 L507.6,242.6 L506.4,245.0 L505.1,247.4 L503.7,249.7 L502.2,251.9 L500.7,254.0 L499.1,256.0 L497.4,257.9 L495.7,259.7 L493.8,261.4 L491.9,263.1 L489.9,264.6 L487.9,266.1 L485.8,267.4 L483.6,268.6 L481.3,269.8 L479.0,270.8 L476.6,271.7 L474.1,272.5 L471.6,273.2 L469.0,273.8" fill="none" stroke="#000" stroke-width="0.8"/>
<path d="M347.5,81.6 L349.2,79.2 L351.0,76.9 L352.9,74.6 L354.8,72.5 L356.8,70.4 L358.8,68.4 L360.9,66.5 L363.1,64.8 L365.4,63.1 L367.7,61.5 L370.0,60.0 L372.5,58.6 L374.9,57.3 L377.4,56.1 L380.0,55.0 L382.6,54.1 L385.3,53.2 L388.0,52.4 L390.7,51.8 L393.5,51.2 L396.2,50.8 L399.1,50.5 L401.9,50.3 L404.8,50.2 L407.7,50.2 L410.6,50.3 L413.5,50.5 L416.4,50.9 L419.4,51.3 L422.3,51.9 L425.3,52.6 L428.2,53.3 L431.2,54.2 L434.1,55.2 L437.0,56.3 L440.0,57.5 L442.9,58.8 L445.7,60.2 L448.6,61.7 L451.5,63.3 L454.3,65.0 L457.1,66.9 L459.8,68.7 L462.5,70.7 L465.2,72.8 L467.9,75.0 L470.5,77.2 L473.0,79.6 L475.6,82.0 L478.0,84.5 L480.4,87.1 L482.8,89.7 L485.1,92.4 L487.3,95.2 L489.5,98.1 L491.6,101.0 L493.7,104.0 L495.6,107.0 L497.6,110.1 L499.4,113.3 L501.2,116.5 L502.9,119.7 L504.5,123.0 L506.0,126.3 L507.5,129.7 L508.8,133.1 L510.1,136.5 L511.3,139.9 L512.5,143.4 L513.5,146.9 L514.5,150.4 L515.3,153.9 L516.1,157.4 L516.8,160.9 L517.4,164.5 L517.9,168.0 L518.3,171.5 L518.6,175.0 L518.9,178.5 L519.1,182.0 L519.3,185.4 L519.4,188.9 L519.4,192.3 L519.4,195.7 L519.2,199.0 L519.1,202.4 L518.8,205.6 L518.5,208.9 L518.1,212.0 L517.7,215.2 L517.1,218.3 L516.5,221.3 L515.9,224.3 L515.1,227.2 L514.3,230.0 L513.4,232.8 L512.4,235.5 L511.4,238.2 L510.3,240.7 L509.1,243.2 L507.8,245.6 L506.5,247.9 L505.1,250.2 L503.6,252.3 L502.0,254.4 L500.3,256.4 L498.6,258.3 L496.8,260.0 L494.9,261.7 L493.0,263.3 L490.9,264.8 L488.8,266.2 L486.7,267.5 L484.4,268.7 L482.1,269.8 L479.8,270.7 L477.3,271.6 L474.8,272.4 L472.2,273.0 L469.6,273.6" fill="none" stroke="#000" stroke-width="1.8"/>
<path d="M353.0,80.2 L354.8,77.8 L356.5,75.4 L358.4,73.2 L360.4,71.0 L362.4,68.9 L364.4,66.9 L366.6,65.0 L368.8,63.2 L371.1,61.6 L373.4,60.0 L375.8,58.5 L378.2,57.1 L380.7,55.8 L383.3,54.6 L385.9,53.5 L388.5,52.5 L391.2,51.7 L393.9,50.9 L396.7,50.3 L399.5,49.8 L402.3,49.3 L405.1,49.0 L408.0,48.9 L410.9,48.8 L413.8,48.8 L416.8,49.0 L419.7,49.2 L422.7,49.6 L425.7,50.1 L428.6,50.7 L431.6,51.4 L434.6,52.2 L437.6,53.1 L440.5,54.2 L443.5,55.3 L446.4,56.5 L449.4,57.9 L452.3,59.4 L455.1,60.9 L458.0,62.6 L460.8,64.3 L463.6,66.2 L466.4,68.1 L469.1,70.2 L471.8,72.3 L474.5,74.6 L477.1,76.9 L479.7,79.3 L482.2,81.7 L484.6,84.3 L487.0,86.9 L489.4,89.6 L491.7,92.4 L493.9,95.3 L496.1,98.2 L498.2,101.2 L500.2,104.2 L502.2,107.3 L504.1,110.5 L505.9,113.7 L507.6,116.9 L509.3,120.2 L510.9,123.5 L512.4,126.9 L513.8,130.3 L515.1,133.8 L516.4,137.2 L517.6,140.7 L518.6,144.2 L519.6,147.8 L520.5,151.3 L521.3,154.8 L522.1,158.4 L522.7,162.0 L523.2,165.5 L523.7,169.1 L524.0,172.6 L524.3,176.2 L524.5,179.7 L524.7,183.2 L524.8,186.6 L524.8,190.1 L524.8,193.5 L524.7,196.9 L524.5,200.3 L524.3,203.6 L524.0,206.8 L523.6,210.1 L523.1,213.2 L522.6,216.4 L522.0,219.4 L521.3,222.4 L520.6,225.4 L519.7,228.3 L518.8,231.1 L517.8,233.8 L516.8,236.5 L515.7,239.1 L514.5,241.6 L513.2,244.1 L511.8,246.4 L510.4,248.7 L508.9,250.9 L507.3,252.9 L505.6,254.9 L503.8,256.8 L502.0,258.6 L500.1,260.4 L498.1,262.0 L496.1,263.5 L494.0,264.9 L491.8,266.2 L489.5,267.4 L487.2,268.4 L484.8,269.4 L482.3,270.3 L479.8,271.0 L477.2,271.7 L474.5,272.2 L471.8,272.7" fill="none" stroke="#000" stroke-width="0.8"/>
<path d="M358.4,78.9 L360.1,76.4 L361.9,74.1 L363.8,71.8 L365.8,69.6 L367.8,67.5 L369.9,65.5 L372.1,63.6 L374.3,61.8 L376.6,60.1 L379.0,58.5 L381.4,57.0 L383.9,55.6 L386.4,54.3 L389.0,53.1 L391.6,52.0 L394.3,51.1 L397.0,50.2 L399.7,49.5 L402.5,48.8 L405.3,48.3 L408.2,47.9 L411.1,47.7 L414.0,47.5 L416.9,47.4 L419.9,47.5 L422.8,47.7 L425.8,48.0 L428.8,48.4 L431.8,48.9 L434.8,49.5 L437.8,50.3 L440.8,51.1 L443.8,52.1 L446.8,53.2 L449.8,54.3 L452.7,55.6 L455.7,57.0 L458.6,58.5 L461.5,60.2 L464.4,61.9 L467.2,63.7 L470.1,65.6 L472.8,67.6 L475.6,69.7 L478.3,71.9 L480.9,74.2 L483.6,76.5 L486.1,79.0 L488.6,81.5 L491.1,84.2 L493.5,86.8 L495.8,89.6 L498.1,92.5 L500.3,95.4 L502.5,98.3 L504.6,101.4 L506.6,104.5 L508.5,107.6 L510.4,110.8 L512.2,114.1 L513.9,117.4 L515.6,120.8 L517.1,124.1 L518.6,127.6 L520.0,131.0 L521.3,134.5 L522.5,138.0 L523.6,141.6 L524.6,145.1 L525.6,148.7 L526.4,152.3 L527.2,155.8 L527.8,159.4 L528.4,163.0 L528.9,166.6 L529.3,170.2 L529.6,173.8 L529.8,177.3 L530.0,180.9 L530.1,184.4 L530.1,187.9 L530.1,191.3 L530.0,194.8 L529.8,198.2 L529.6,201.5 L529.3,204.8 L528.9,208.1 L528.4,211.3 L527.9,214.5 L527.3,217.6 L526.6,220.6 L525.8,223.6 L525.0,226.5 L524.1,229.4 L523.1,232.1 L522.1,234.9 L520.9,237.5 L519.7,240.0 L518.4,242.5 L517.0,244.9 L515.6,247.2 L514.0,249.4 L512.4,251.5 L510.7,253.5 L509.0,255.4 L507.1,257.3 L505.2,259.0 L503.2,260.6 L501.1,262.1 L499.0,263.5 L496.8,264.8 L494.5,266.0 L492.1,267.1 L489.7,268.1 L487.2,269.0 L484.6,269.7 L482.0,270.4 L479.3,270.9 L476.6,271.3 L473.8,271.7" fill="none" stroke="#000" stroke-width="0.8"/>
<path d="M360.7,78.3 L362.4,75.8 L364.3,73.4 L366.2,71.2 L368.1,69.0 L370.2,66.9 L372.3,64.8 L374.5,62.9 L376.7,61.1 L379.0,59.4 L381.4,57.8 L383.8,56.3 L386.3,54.9 L388.9,53.6 L391.4,52.4 L394.1,51.4 L396.8,50.4 L399.5,49.6 L402.3,48.8 L405.1,48.2 L407.9,47.7 L410.8,47.3 L413.7,47.0 L416.6,46.9 L419.6,46.8 L422.5,46.9 L425.5,47.1 L428.5,47.4 L431.5,47.8 L434.5,48.4 L437.5,49.0 L440.6,49.8 L443.6,50.7 L446.6,51.6 L449.6,52.7 L452.6,54.0 L455.6,55.3 L458.5,56.7 L461.4,58.2 L464.4,59.9 L467.2,61.6 L470.1,63.4 L472.9,65.4 L475.7,67.4 L478.5,69.5 L481.2,71.8 L483.8,74.1 L486.4,76.5 L489.0,79.0 L491.5,81.5 L494.0,84.2 L496.4,86.9 L498.7,89.7 L501.0,92.6 L503.2,95.5 L505.4,98.5 L507.4,101.6 L509.4,104.7 L511.4,107.9 L513.2,111.1 L515.0,114.4 L516.7,117.7 L518.3,121.1 L519.9,124.5 L521.3,128.0 L522.7,131.5 L524.0,135.0 L525.1,138.5 L526.2,142.1 L527.3,145.6 L528.2,149.2 L529.0,152.8 L529.7,156.4 L530.4,160.0 L530.9,163.7 L531.4,167.3 L531.7,170.8 L532.0,174.4 L532.2,178.0 L532.3,181.5 L532.4,185.1 L532.4,188.6 L532.3,192.0 L532.2,195.5 L532.0,198.9 L531.7,202.2 L531.4,205.5 L531.0,208.8 L530.5,212.0 L529.9,215.1 L529.3,218.2 L528.6,221.3 L527.8,224.2 L526.9,227.1 L525.9,230.0 L524.9,232.7 L523.8,235.4 L522.6,238.0 L521.4,240.6 L520.0,243.0 L518.6,245.3 L517.1,247.6 L515.5,249.8 L513.9,251.9 L512.1,253.8 L510.3,255.7 L508.4,257.5 L506.4,259.2 L504.4,260.8 L502.3,262.2 L500.1,263.6 L497.8,264.9 L495.5,266.0 L493.1,267.1 L490.6,268.0 L488.0,268.8 L485.4,269.5 L482.8,270.1 L480.0,270.6 L477.2,270.9 L474.4,271.2" fill="none" stroke="#000" stroke-width="1.6"/>
<path d="M366.1,76.9 L367.9,74.4 L369.7,72.0 L371.6,69.7 L373.6,67.5 L375.7,65.4 L377.8,63.4 L380.0,61.5 L382.3,59.6 L384.6,57.9 L387.0,56.3 L389.5,54.8 L392.0,53.4 L394.6,52.1 L397.2,50.9 L399.9,49.9 L402.6,48.9 L405.3,48.1 L408.1,47.4 L411.0,46.8 L413.9,46.3 L416.8,45.9 L419.7,45.6 L422.6,45.5 L425.6,45.5 L428.6,45.6 L431.6,45.8 L434.7,46.1 L437.7,46.6 L440.7,47.2 L443.8,47.8 L446.8,48.7 L449.9,49.6 L452.9,50.6 L455.9,51.7 L458.9,53.0 L461.9,54.4 L464.9,55.8 L467.9,57.4 L470.8,59.1 L473.7,60.9 L476.6,62.8 L479.4,64.8 L482.2,66.9 L485.0,69.0 L487.7,71.3 L490.3,73.7 L493.0,76.2 L495.5,78.7 L498.0,81.3 L500.5,84.0 L502.9,86.8 L505.2,89.7 L507.5,92.6 L509.7,95.6 L511.8,98.7 L513.9,101.8 L515.9,105.0 L517.8,108.2 L519.6,111.5 L521.4,114.9 L523.0,118.2 L524.6,121.7 L526.1,125.1 L527.5,128.6 L528.9,132.2 L530.1,135.7 L531.2,139.3 L532.3,142.9 L533.3,146.5 L534.1,150.1 L534.9,153.8 L535.6,157.4 L536.2,161.1 L536.6,164.7 L537.0,168.3 L537.3,171.9 L537.5,175.6 L537.7,179.1 L537.8,182.7 L537.8,186.2 L537.7,189.7 L537.6,193.2 L537.4,196.6 L537.1,200.0 L536.8,203.4 L536.4,206.7 L535.9,209.9 L535.3,213.1 L534.7,216.3 L534.0,219.3 L533.2,222.4 L532.3,225.3 L531.3,228.2 L530.3,231.0 L529.2,233.7 L528.0,236.3 L526.7,238.9 L525.4,241.4 L523.9,243.7 L522.4,246.0 L520.8,248.2 L519.2,250.3 L517.4,252.3 L515.6,254.3 L513.7,256.1 L511.7,257.8 L509.6,259.4 L507.5,260.9 L505.2,262.2 L502.9,263.5 L500.6,264.7 L498.1,265.7 L495.6,266.7 L493.1,267.5 L490.4,268.2 L487.7,268.8 L485.0,269.2 L482.1,269.6 L479.3,269.8 L476.3,270.0" fill="none" stroke="#000" stroke-width="0.8"/>
<path d="M371.5,75.6 L373.3,73.1 L375.1,70.6 L377.0,68.3 L379.1,66.1 L381.1,64.0 L383.3,61.9 L385.5,60.0 L387.8,58.2 L390.2,56.4 L392.6,54.8 L395.1,53.3 L397.6,51.9 L400.2,50.6 L402.9,49.4 L405.6,48.4 L408.3,47.4 L411.1,46.6 L414.0,45.9 L416.8,45.3 L419.7,44.8 L422.7,44.5 L425.6,44.3 L428.6,44.1 L431.6,44.2 L434.6,44.3 L437.7,44.5 L440.7,44.9 L443.8,45.4 L446.9,46.0 L450.0,46.7 L453.0,47.5 L456.1,48.5 L459.2,49.6 L462.2,50.8 L465.2,52.1 L468.3,53.5 L471.2,55.0 L474.2,56.6 L477.2,58.4 L480.1,60.2 L483.0,62.2 L485.8,64.2 L488.6,66.4 L491.4,68.6 L494.1,70.9 L496.8,73.4 L499.4,75.9 L502.0,78.5 L504.5,81.2 L506.9,83.9 L509.3,86.8 L511.6,89.7 L513.9,92.7 L516.1,95.7 L518.2,98.9 L520.2,102.0 L522.2,105.3 L524.1,108.6 L525.9,111.9 L527.6,115.3 L529.3,118.8 L530.8,122.2 L532.3,125.8 L533.7,129.3 L534.9,132.9 L536.1,136.5 L537.2,140.1 L538.2,143.8 L539.2,147.4 L540.0,151.1 L540.7,154.8 L541.3,158.4 L541.8,162.1 L542.3,165.8 L542.6,169.4 L542.8,173.1 L543.0,176.7 L543.1,180.3 L543.1,183.9 L543.0,187.4 L542.9,190.9 L542.7,194.4 L542.5,197.8 L542.1,201.2 L541.7,204.6 L541.2,207.9 L540.7,211.1 L540.0,214.3 L539.3,217.4 L538.5,220.4 L537.6,223.4 L536.7,226.3 L535.6,229.2 L534.5,231.9 L533.3,234.6 L532.0,237.2 L530.7,239.7 L529.2,242.1 L527.7,244.4 L526.1,246.7 L524.4,248.8 L522.6,250.8 L520.8,252.8 L518.9,254.6 L516.9,256.3 L514.8,257.9 L512.6,259.4 L510.4,260.8 L508.0,262.1 L505.7,263.3 L503.2,264.4 L500.7,265.3 L498.1,266.1 L495.4,266.8 L492.7,267.4 L489.9,267.9 L487.0,268.3 L484.1,268.5 L481.2,268.6" fill="none" stroke="#000" stroke-width="0.8"/>
<path d="M373.8,75.0 L375.6,72.5 L377.4,70.0 L379.4,67.7 L381.4,65.5 L383.5,63.3 L385.7,61.3 L387.9,59.3 L390.2,57.5 L392.6,55.8 L395.0,54.2 L397.5,52.7 L400.1,51.3 L402.7,50.0 L405.4,48.8 L408.1,47.7 L410.9,46.8 L413.7,46.0 L416.5,45.3 L419.4,44.7 L422.3,44.2 L425.3,43.9 L428.2,43.7 L431.2,43.6 L434.3,43.6 L437.3,43.7 L440.4,44.0 L443.4,44.4 L446.5,44.9 L449.6,45.5 L452.7,46.2 L455.8,47.1 L458.9,48.1 L461.9,49.2 L465.0,50.4 L468.0,51.7 L471.1,53.1 L474.1,54.7 L477.0,56.3 L480.0,58.1 L482.9,60.0 L485.8,61.9 L488.7,64.0 L491.5,66.2 L494.2,68.5 L497.0,70.8 L499.6,73.3 L502.3,75.8 L504.8,78.5 L507.3,81.2 L509.8,84.0 L512.2,86.8 L514.5,89.8 L516.7,92.8 L518.9,95.9 L521.0,99.0 L523.1,102.3 L525.0,105.5 L526.9,108.9 L528.7,112.2 L530.4,115.7 L532.0,119.1 L533.6,122.6 L535.0,126.2 L536.4,129.7 L537.6,133.3 L538.8,137.0 L539.9,140.6 L540.9,144.3 L541.7,148.0 L542.5,151.6 L543.2,155.3 L543.8,159.0 L544.3,162.7 L544.7,166.4 L545.0,170.1 L545.2,173.7 L545.3,177.3 L545.4,180.9 L545.4,184.5 L545.3,188.1 L545.2,191.6 L544.9,195.1 L544.6,198.5 L544.3,201.9 L543.8,205.2 L543.3,208.5 L542.7,211.7 L542.0,214.9 L541.2,218.0 L540.4,221.1 L539.5,224.0 L538.5,226.9 L537.4,229.7 L536.3,232.5 L535.0,235.1 L533.7,237.7 L532.3,240.2 L530.8,242.5 L529.2,244.8 L527.6,247.0 L525.8,249.1 L524.0,251.1 L522.1,253.0 L520.1,254.8 L518.1,256.5 L516.0,258.1 L513.7,259.5 L511.5,260.9 L509.1,262.1 L506.7,263.3 L504.1,264.3 L501.6,265.2 L498.9,265.9 L496.2,266.6 L493.4,267.1 L490.6,267.5 L487.7,267.8 L484.8,268.0 L481.8,268.0" fill="none" stroke="#000" stroke-width="1.0"/>
<path d="M396.0,69.4 L397.9,66.8 L399.8,64.3 L401.8,62.0 L403.8,59.7 L406.0,57.5 L408.2,55.4 L410.5,53.5 L412.9,51.6 L415.3,49.9 L417.8,48.2 L420.4,46.7 L423.0,45.3 L425.7,44.0 L428.5,42.9 L431.2,41.8 L434.1,40.9 L437.0,40.1 L439.9,39.4 L442.9,38.9 L445.9,38.5 L448.9,38.2 L451.9,38.0 L455.0,38.0 L458.1,38.0 L461.2,38.2 L464.4,38.6 L467.5,39.1 L470.7,39.6 L473.8,40.4 L477.0,41.2 L480.1,42.2 L483.3,43.2 L486.4,44.4 L489.5,45.8 L492.6,47.2 L495.7,48.8 L498.8,50.4 L501.8,52.2 L504.8,54.1 L507.7,56.1 L510.6,58.2 L513.5,60.4 L516.4,62.7 L519.1,65.2 L521.9,67.7 L524.6,70.3 L527.2,73.0 L529.7,75.7 L532.2,78.6 L534.7,81.6 L537.0,84.6 L539.3,87.7 L541.5,90.8 L543.7,94.1 L545.7,97.4 L547.7,100.7 L549.6,104.1 L551.4,107.6 L553.1,111.1 L554.8,114.7 L556.3,118.3 L557.8,121.9 L559.1,125.6 L560.4,129.3 L561.5,133.0 L562.6,136.7 L563.5,140.5 L564.4,144.2 L565.2,148.0 L565.8,151.8 L566.3,155.5 L566.8,159.3 L567.1,163.0 L567.4,166.8 L567.5,170.5 L567.5,174.2 L567.4,177.9 L567.2,181.5 L566.9,185.1 L566.5,188.7 L566.0,192.2 L565.4,195.7 L564.7,199.1 L563.9,202.5 L563.0,205.8 L561.9,209.0 L560.8,212.2 L559.6,215.3 L558.3,218.3 L556.9,221.3 L555.4,224.2 L553.8,227.0 L552.1,229.7 L550.3,232.3 L548.4,234.8 L546.5,237.2 L544.4,239.6 L542.3,241.8 L540.1,243.9 L537.9,246.0 L535.5,247.9 L533.1,249.7 L530.7,251.4 L528.1,252.9 L525.5,254.4 L522.9,255.7 L520.2,257.0 L517.4,258.1 L514.6,259.0 L511.7,259.9 L508.8,260.6 L505.9,261.3 L502.9,261.7 L499.9,262.1 L496.8,262.3 L493.8,262.4" fill="none" stroke="#000" stroke-width="2.3"/>
<path d="M398.5,68.8 L400.3,66.2 L402.2,63.7 L404.2,61.4 L406.2,59.1 L408.4,56.9 L410.6,54.8 L412.9,52.9 L415.3,51.0 L417.7,49.3 L420.2,47.6 L422.8,46.1 L425.4,44.7 L428.1,43.4 L430.9,42.3 L433.6,41.2 L436.5,40.3 L439.4,39.5 L442.3,38.8 L445.3,38.3 L448.3,37.9 L451.3,37.6 L454.3,37.4 L457.4,37.3 L460.5,37.4 L463.6,37.6 L466.8,38.0 L469.9,38.4 L473.1,39.0 L476.2,39.7 L479.4,40.6 L482.5,41.5 L485.7,42.6 L488.8,43.8 L491.9,45.2 L495.0,46.6 L498.1,48.2 L501.2,49.8 L504.2,51.6 L507.2,53.5 L510.1,55.5 L513.0,57.6 L515.9,59.8 L518.8,62.1 L521.5,64.6 L524.3,67.1 L527.0,69.7 L529.6,72.4 L532.1,75.1 L534.6,78.0 L537.1,80.9 L539.4,84.0 L541.7,87.1 L543.9,90.2 L546.1,93.5 L548.1,96.8 L550.1,100.1 L552.0,103.5 L553.8,107.0 L555.5,110.5 L557.2,114.1 L558.7,117.7 L560.2,121.3 L561.5,125.0 L562.8,128.7 L563.9,132.4 L565.0,136.1 L565.9,139.9 L566.8,143.6 L567.6,147.4 L568.2,151.2 L568.8,154.9 L569.2,158.7 L569.5,162.4 L569.8,166.2 L569.9,169.9 L569.9,173.6 L569.8,177.3 L569.6,180.9 L569.3,184.5 L568.9,188.1 L568.4,191.6 L567.8,195.1 L567.1,198.5 L566.3,201.9 L565.4,205.2 L564.3,208.4 L563.2,211.6 L562.0,214.7 L560.7,217.7 L559.3,220.7 L557.8,223.6 L556.2,226.4 L554.5,229.1 L552.7,231.7 L550.8,234.2 L548.9,236.6 L546.8,239.0 L544.7,241.2 L542.6,243.3 L540.3,245.3 L538.0,247.3 L535.5,249.1 L533.1,250.8 L530.5,252.3 L527.9,253.8 L525.3,255.1 L522.6,256.4 L519.8,257.5 L517.0,258.4 L514.1,259.3 L511.2,260.0 L508.3,260.6 L505.3,261.1 L502.3,261.5 L499.2,261.7 L496.2,261.8" fill="none" stroke="#000" stroke-width="0.8"/>
<path d="M403.9,67.4 L405.7,64.8 L407.6,62.4 L409.6,60.0 L411.7,57.7 L413.9,55.5 L416.1,53.4 L418.4,51.4 L420.8,49.6 L423.2,47.8 L425.8,46.2 L428.4,44.7 L431.0,43.3 L433.7,42.0 L436.4,40.8 L439.3,39.8 L442.1,38.9 L445.0,38.1 L447.9,37.4 L450.9,36.9 L453.9,36.5 L457.0,36.2 L460.1,36.0 L463.2,36.0 L466.3,36.1 L469.4,36.3 L472.6,36.7 L475.7,37.1 L478.9,37.7 L482.0,38.5 L485.2,39.3 L488.4,40.3 L491.5,41.4 L494.7,42.6 L497.8,44.0 L500.9,45.5 L504.0,47.0 L507.1,48.7 L510.1,50.5 L513.1,52.5 L516.1,54.5 L519.0,56.6 L521.9,58.9 L524.7,61.2 L527.5,63.7 L530.2,66.2 L532.9,68.8 L535.5,71.6 L538.1,74.4 L540.6,77.3 L543.0,80.2 L545.4,83.3 L547.6,86.4 L549.9,89.6 L552.0,92.9 L554.0,96.2 L556.0,99.6 L557.9,103.0 L559.7,106.5 L561.4,110.0 L563.0,113.6 L564.5,117.3 L566.0,120.9 L567.3,124.6 L568.5,128.3 L569.7,132.1 L570.7,135.8 L571.6,139.6 L572.5,143.4 L573.2,147.1 L573.8,150.9 L574.3,154.7 L574.7,158.5 L575.0,162.3 L575.2,166.0 L575.3,169.7 L575.3,173.4 L575.2,177.1 L575.0,180.8 L574.6,184.4 L574.2,187.9 L573.6,191.4 L573.0,194.9 L572.2,198.3 L571.4,201.7 L570.4,205.0 L569.4,208.2 L568.2,211.4 L566.9,214.5 L565.6,217.5 L564.1,220.4 L562.6,223.3 L560.9,226.1 L559.2,228.8 L557.4,231.4 L555.5,233.9 L553.5,236.3 L551.4,238.6 L549.2,240.7 L547.0,242.8 L544.7,244.8 L542.3,246.7 L539.9,248.5 L537.4,250.1 L534.8,251.6 L532.2,253.1 L529.5,254.3 L526.7,255.5 L523.9,256.6 L521.1,257.5 L518.2,258.3 L515.2,259.0 L512.3,259.5 L509.3,260.0 L506.2,260.3 L503.1,260.4 L500.0,260.5" fill="none" stroke="#000" stroke-width="0.8"/>
<path d="M408.4,66.3 L410.2,63.7 L412.1,61.2 L414.1,58.8 L416.2,56.5 L418.4,54.3 L420.7,52.2 L423.0,50.2 L425.4,48.4 L427.8,46.6 L430.4,45.0 L433.0,43.5 L435.6,42.1 L438.3,40.8 L441.1,39.6 L443.9,38.6 L446.8,37.7 L449.7,36.9 L452.7,36.2 L455.7,35.7 L458.7,35.3 L461.8,35.0 L464.8,34.9 L468.0,34.9 L471.1,35.0 L474.2,35.2 L477.4,35.6 L480.6,36.1 L483.8,36.7 L486.9,37.5 L490.1,38.3 L493.3,39.3 L496.5,40.5 L499.6,41.7 L502.8,43.1 L505.9,44.6 L509.0,46.2 L512.0,47.9 L515.1,49.7 L518.1,51.7 L521.1,53.7 L524.0,55.9 L526.9,58.2 L529.7,60.5 L532.5,63.0 L535.2,65.6 L537.9,68.2 L540.5,71.0 L543.1,73.8 L545.6,76.7 L548.0,79.8 L550.4,82.8 L552.6,86.0 L554.8,89.2 L557.0,92.5 L559.0,95.9 L561.0,99.3 L562.8,102.7 L564.6,106.3 L566.3,109.8 L567.9,113.4 L569.4,117.1 L570.8,120.8 L572.1,124.5 L573.3,128.2 L574.5,132.0 L575.5,135.7 L576.4,139.5 L577.2,143.3 L577.9,147.1 L578.5,150.9 L579.0,154.7 L579.3,158.5 L579.6,162.3 L579.8,166.1 L579.8,169.8 L579.8,173.5 L579.6,177.2 L579.4,180.8 L579.0,184.5 L578.5,188.0 L577.9,191.5 L577.2,195.0 L576.4,198.4 L575.5,201.8 L574.5,205.1 L573.4,208.3 L572.2,211.4 L570.9,214.5 L569.5,217.5 L568.0,220.4 L566.4,223.3 L564.7,226.0 L563.0,228.7 L561.1,231.2 L559.2,233.7 L557.1,236.1 L555.0,238.4 L552.8,240.5 L550.5,242.6 L548.2,244.5 L545.8,246.3 L543.3,248.1 L540.7,249.7 L538.1,251.2 L535.4,252.5 L532.7,253.8 L529.9,254.9 L527.1,255.9 L524.2,256.8 L521.3,257.5 L518.3,258.1 L515.3,258.6 L512.3,259.0 L509.2,259.2 L506.1,259.3" fill="none" stroke="#000" stroke-width="1.0"/>
<path d="M410.0,65.9 L411.8,63.3 L413.8,60.8 L415.8,58.4 L417.9,56.1 L420.0,53.9 L422.3,51.8 L424.6,49.8 L427.0,48.0 L429.5,46.2 L432.0,44.6 L434.6,43.1 L437.3,41.7 L440.0,40.4 L442.7,39.2 L445.6,38.2 L448.4,37.3 L451.3,36.5 L454.3,35.8 L457.3,35.3 L460.3,34.9 L463.4,34.6 L466.5,34.5 L469.6,34.5 L472.7,34.6 L475.9,34.8 L479.0,35.2 L482.2,35.7 L485.4,36.3 L488.6,37.0 L491.7,37.9 L494.9,38.9 L498.1,40.0 L501.2,41.3 L504.4,42.7 L507.5,44.2 L510.6,45.8 L513.7,47.5 L516.7,49.3 L519.7,51.3 L522.7,53.3 L525.6,55.5 L528.5,57.8 L531.3,60.1 L534.1,62.6 L536.9,65.2 L539.6,67.8 L542.2,70.6 L544.7,73.4 L547.2,76.3 L549.6,79.3 L552.0,82.4 L554.3,85.6 L556.5,88.8 L558.6,92.1 L560.6,95.4 L562.6,98.9 L564.5,102.3 L566.2,105.8 L567.9,109.4 L569.5,113.0 L571.0,116.7 L572.4,120.4 L573.8,124.1 L575.0,127.8 L576.1,131.6 L577.1,135.3 L578.0,139.1 L578.8,142.9 L579.5,146.7 L580.1,150.5 L580.6,154.3 L581.0,158.1 L581.2,161.9 L581.4,165.7 L581.5,169.4 L581.4,173.1 L581.3,176.8 L581.0,180.4 L580.6,184.0 L580.1,187.6 L579.5,191.1 L578.9,194.6 L578.1,198.0 L577.2,201.4 L576.2,204.6 L575.1,207.9 L573.8,211.0 L572.5,214.1 L571.1,217.1 L569.6,220.0 L568.1,222.9 L566.4,225.6 L564.6,228.3 L562.7,230.8 L560.8,233.3 L558.7,235.7 L556.6,237.9 L554.4,240.1 L552.2,242.2 L549.8,244.1 L547.4,245.9 L544.9,247.7 L542.4,249.3 L539.7,250.7 L537.1,252.1 L534.3,253.4 L531.6,254.5 L528.7,255.5 L525.8,256.4 L522.9,257.1 L519.9,257.7 L516.9,258.2 L513.9,258.6 L510.8,258.8 L507.7,258.9" fill="none" stroke="#000" stroke-width="1.3"/>
</g>
<path d="M358.0,106.0C359.0,103.2 359.9,102.9 362.0,101.0C364.1,99.1 367.3,98.4 370.3,94.7C373.3,91.0 376.2,83.2 380.0,79.0C383.8,74.8 389.3,71.6 393.0,69.2C396.7,66.8 398.0,66.6 402.0,64.8C406.0,63.0 412.7,60.3 417.0,58.3C421.3,56.3 424.7,55.2 428.0,52.8C431.3,50.4 433.3,46.5 437.0,44.0C440.7,41.5 445.3,39.1 450.0,37.5C454.7,35.9 460.1,35.0 465.0,34.5C469.9,34.0 475.6,34.5 479.4,34.8C483.2,35.1 484.9,35.6 487.6,36.2C490.3,36.9 493.1,37.6 495.8,38.5C498.5,39.4 501.2,40.5 503.9,41.6C506.6,42.8 509.3,44.1 511.9,45.6C514.6,47.0 517.2,48.5 519.8,50.2C522.3,51.9 524.9,53.7 527.4,55.6C529.9,57.6 532.3,59.6 534.7,61.7C537.1,63.9 539.4,66.1 541.6,68.5C543.9,70.8 546.1,73.3 548.2,75.8C550.3,78.4 552.4,81.0 554.3,83.7C556.3,86.4 558.1,89.2 559.9,92.1C561.7,94.9 563.4,97.8 565.0,100.8C566.6,103.8 568.1,106.9 569.5,109.9C570.9,113.0 572.2,116.2 573.3,119.3C574.5,122.5 575.6,125.7 576.6,128.9C577.5,132.1 578.4,135.4 579.1,138.7C579.9,141.9 580.5,145.2 581.0,148.4C581.5,151.7 581.9,155.0 582.2,158.2C582.4,161.5 582.6,164.7 582.6,167.9C582.6,171.1 582.6,174.3 582.4,177.4C582.2,180.6 581.8,183.7 581.4,186.7C580.9,189.7 580.4,192.8 579.7,195.7C579.0,198.6 578.2,201.5 577.3,204.3C576.4,207.1 575.4,209.8 574.3,212.4C573.2,215.1 571.9,217.6 570.6,220.1C569.3,222.6 567.8,224.9 566.3,227.2C564.8,229.5 563.1,231.6 561.4,233.7C559.7,235.7 557.8,237.7 555.9,239.5C554.0,241.3 552.0,243.0 550.0,244.6C547.9,246.2 545.7,247.7 543.5,249.0C541.3,250.3 539.0,251.5 536.7,252.6C534.3,253.6 531.9,254.5 529.4,255.3C527.0,256.1 525.8,256.5 521.9,257.3C518.0,258.1 510.9,258.7 506.0,260.0C501.1,261.3 498.1,263.7 492.5,265.0C486.9,266.3 479.2,268.0 472.5,268.0C465.8,268.0 459.6,267.2 452.5,265.0C445.4,262.8 437.1,259.2 430.0,255.0C422.9,250.8 416.2,245.8 410.0,240.0C403.8,234.2 397.5,227.1 392.5,220.0C387.5,212.9 383.1,204.2 380.0,197.5C376.9,190.8 375.8,187.1 373.8,180.0C371.8,172.9 369.3,162.0 368.0,155.0C366.7,148.0 367.3,141.8 366.0,138.0C364.7,134.2 361.7,135.3 360.0,132.0C358.3,128.7 356.3,122.3 356.0,118.0C355.7,113.7 357.0,108.8 358.0,106.0Z" fill="none" stroke="#000" stroke-width="1.3"/>
<path d="M494.5,98.5 L502.5,110" stroke="#000" stroke-width="2.8" stroke-linecap="round"/>
<path d="M526.5,183 L527.5,196" stroke="#000" stroke-width="2.8" stroke-linecap="round"/>
<path d="M534,81 L543,93.5" stroke="#000" stroke-width="2.8" stroke-linecap="round"/>
<path d="M568,169 L568.5,183" stroke="#000" stroke-width="2.6" stroke-linecap="round"/>
<path d="M442,55.5 L455,57.5" stroke="#000" stroke-width="2.4" stroke-linecap="round"/>
<line x1="506.4" y1="101" x2="535.75" y2="90" stroke="#000" stroke-width="0.8" stroke-linecap="round"/>
<line x1="566" y1="180" x2="580" y2="176" stroke="#000" stroke-width="0.8" stroke-linecap="round"/>
<path class="t" d="M372.0,93.0C374.2,90.8 380.3,83.5 385.0,80.0C389.7,76.5 394.2,74.3 400.0,72.0C405.8,69.7 413.3,68.0 420.0,66.0C426.7,64.0 436.7,61.0 440.0,60.0"/>
<path class="t" d="M377.3,85.3C378.0,88.2 380.2,95.5 381.2,102.5C382.3,109.5 383.3,120.9 383.6,127.5C383.9,134.1 383.1,139.6 383.0,142.0"/>
<path class="t" d="M418.8,69.7C417.7,72.6 414.1,80.1 412.5,86.9C410.9,93.7 410.0,102.5 409.4,110.3C408.8,118.1 408.7,129.8 408.6,133.8"/>
<path class="t" d="M372.0,120.0C374.3,119.4 381.1,118.2 386.0,116.6C390.9,115.0 396.7,110.9 401.6,110.3C406.5,109.7 410.7,111.1 415.6,112.7C420.5,114.3 425.5,116.2 431.2,119.7C437.0,123.2 446.9,131.4 450.0,133.8"/>
<path class="t" d="M369.0,104.0C370.2,102.7 374.5,98.7 376.0,96.0C377.5,93.3 377.7,89.3 378.0,88.0"/>
<path class="t" d="M442.5,195.0C444.6,197.5 452.5,205.0 455.0,210.0C457.5,215.0 458.3,221.0 457.5,225.0C456.7,229.0 453.8,231.9 450.0,233.8C446.2,235.6 440.0,236.2 435.0,236.2C430.0,236.2 425.0,235.5 420.0,233.8C415.0,232.0 407.5,227.3 405.0,226.0"/>
<line x1="417.5" y1="220" x2="421" y2="234" stroke="#000" stroke-width="0.8" stroke-linecap="round"/>
<path class="t" d="M372.0,160.0C373.0,164.2 375.0,176.7 378.0,185.0C381.0,193.3 385.5,202.8 390.0,210.0C394.5,217.2 402.5,225.0 405.0,228.0"/>
<path d="M357.0,104.7C357.6,99.2 360.9,99.6 363.0,98.0C365.1,96.4 366.6,94.7 369.3,95.0C372.0,95.3 376.8,95.8 379.0,99.8C381.2,103.8 382.6,113.2 382.8,119.3C383.0,125.4 382.1,132.6 380.3,136.5C378.5,140.4 374.0,142.2 371.8,142.6C369.6,143.0 369.0,140.9 367.0,139.0C365.0,137.1 361.3,136.7 359.6,131.0C357.9,125.3 356.4,110.2 357.0,104.7Z" fill="#fff" stroke="#000" stroke-width="1.1"/>
<path class="t" d="M369.0,96.0C370.0,97.3 373.7,100.0 375.0,104.0C376.3,108.0 377.0,114.8 377.0,120.0C377.0,125.2 376.0,131.3 375.0,135.0C374.0,138.7 371.7,140.8 371.0,142.0"/>
<path class="t" d="M366.0,137.0C367.0,137.0 370.0,137.7 372.0,137.0C374.0,136.3 377.0,133.7 378.0,133.0"/>
<ellipse cx="365" cy="119.5" rx="8.2" ry="13.5" transform="rotate(-8 365 119.5)" fill="#fff" stroke="#000" stroke-width="1.6"/>
<ellipse cx="365.3" cy="119.5" rx="6.5" ry="11" transform="rotate(-8 365.3 119.5)" fill="#fff" stroke="#000" stroke-width="0.8"/>
<ellipse cx="364.6" cy="118.8" rx="4.3" ry="7.5" transform="rotate(-8 364.6 118.8)" fill="#fff" stroke="#000" stroke-width="1.3"/>
<ellipse cx="364.4" cy="118.6" rx="2.8" ry="5.5" transform="rotate(-8 364.4 118.6)" fill="#fff" stroke="#000" stroke-width="0.7"/>
<path d="M387.3,142.5C389.3,135.9 392.5,133.0 396.4,131.3C400.3,129.6 405.2,131.1 410.6,132.3C416.0,133.5 424.5,136.0 428.9,138.4C433.3,140.8 435.0,142.5 437.0,146.6C439.0,150.7 440.4,154.7 441.1,162.8C441.8,170.9 442.1,186.8 441.1,195.3C440.1,203.8 438.1,209.4 435.0,213.6C431.9,217.8 427.5,220.4 422.8,220.7C418.1,221.0 411.7,217.8 406.6,215.6C401.5,213.4 395.7,210.9 392.3,207.5C388.9,204.1 387.6,201.4 386.2,195.3C384.9,189.2 384.0,179.8 384.2,171.0C384.4,162.2 385.3,149.1 387.3,142.5Z" fill="#fff" stroke="#000" stroke-width="1.1"/>
<path d="M389.5,143.0C391.2,136.8 394.0,135.3 397.5,134.0C401.0,132.7 405.6,133.8 410.6,135.0C415.6,136.2 423.5,138.8 427.5,141.0C431.5,143.2 432.7,144.3 434.5,148.0C436.3,151.7 437.7,155.2 438.3,163.0C438.9,170.8 439.3,187.0 438.3,195.0C437.3,203.0 435.2,207.2 432.5,211.0C429.8,214.8 426.2,217.2 422.0,217.5C417.8,217.8 411.7,214.6 407.0,212.5C402.3,210.4 397.1,208.1 394.0,205.0C390.9,201.9 389.7,199.7 388.5,194.0C387.3,188.3 386.8,179.5 387.0,171.0C387.2,162.5 387.8,149.2 389.5,143.0Z" fill="none" stroke="#000" stroke-width="0.7"/>
<ellipse cx="412" cy="177.5" rx="22.5" ry="35" transform="rotate(-10 412 177.5)" fill="#fff" stroke="#000" stroke-width="1.2"/>
<ellipse cx="412.3" cy="177" rx="20.5" ry="32.5" transform="rotate(-10 412.3 177)" fill="#fff" stroke="#000" stroke-width="0.8"/>
<ellipse cx="412.6" cy="176.5" rx="18" ry="29" transform="rotate(-10 412.6 176.5)" fill="#fff" stroke="#000" stroke-width="1.4"/>
<ellipse cx="413" cy="176" rx="15.5" ry="25.5" transform="rotate(-10 413 176)" fill="#fff" stroke="#000" stroke-width="0.8"/>
<path d="M406,159 L413,156 L425,191 L418,195 Z" fill="#fff" stroke="#000" stroke-width="0.9"/>
<path d="M409,158 L421,193" stroke="#000" stroke-width="0.6"/>
<path d="M412,186 L432,181 L433,185 L413,190 Z" fill="#fff" stroke="#000" stroke-width="0.9"/>
<path d="M415,196 L430,192 L431,195 L416,199 Z" fill="#fff" stroke="#000" stroke-width="0.9"/>
<path class="t" d="M401.0,165.0C401.0,168.3 400.2,179.5 401.0,185.0C401.8,190.5 403.8,195.0 406.0,198.0C408.2,201.0 412.7,202.2 414.0,203.0"/>
<path d="M441.0,156.0C441.3,151.2 441.2,133.9 443.0,127.5C444.8,121.1 448.5,119.9 452.0,117.7C455.5,115.5 460.0,114.1 464.0,114.4C468.0,114.8 472.6,116.9 476.0,119.8C479.4,122.7 482.2,127.5 484.7,131.9C487.2,136.3 489.8,141.3 491.2,146.0C492.7,150.7 493.2,155.7 493.4,160.3C493.6,164.9 493.8,169.8 492.3,173.4C490.9,177.1 487.4,180.2 484.7,182.2C482.0,184.2 479.6,185.7 476.0,185.5C472.4,185.3 466.8,183.4 462.8,181.0C458.8,178.6 455.6,175.4 452.0,171.2C448.4,167.1 442.8,158.5 441.0,156.0" fill="none" stroke="#000" stroke-width="1.0"/>
<line x1="459.5" y1="135.2" x2="460.6" y2="115.5" stroke="#000" stroke-width="1.0" stroke-linecap="round"/>
<line x1="465" y1="134" x2="469.4" y2="116.6" stroke="#000" stroke-width="1.0" stroke-linecap="round"/>
<line x1="469.4" y1="136.25" x2="477" y2="124.2" stroke="#000" stroke-width="1.0" stroke-linecap="round"/>
<line x1="481.4" y1="142.8" x2="486.9" y2="139.5" stroke="#000" stroke-width="1.0" stroke-linecap="round"/>
<line x1="482.5" y1="145" x2="490" y2="145.5" stroke="#000" stroke-width="1.0" stroke-linecap="round"/>
<line x1="477" y1="157" x2="492.3" y2="161.4" stroke="#000" stroke-width="1.0" stroke-linecap="round"/>
<line x1="476" y1="163.6" x2="492.5" y2="173" stroke="#000" stroke-width="1.0" stroke-linecap="round"/>
<line x1="470.5" y1="170" x2="478" y2="185.5" stroke="#000" stroke-width="1.0" stroke-linecap="round"/>
<line x1="460.6" y1="170" x2="457.3" y2="180.5" stroke="#000" stroke-width="1.0" stroke-linecap="round"/>
<line x1="449.7" y1="141.7" x2="437.7" y2="146" stroke="#000" stroke-width="1.0" stroke-linecap="round"/>
<line x1="449" y1="150.5" x2="438.75" y2="151.6" stroke="#000" stroke-width="1.0" stroke-linecap="round"/>
<line x1="449.7" y1="154.8" x2="439.8" y2="154.8" stroke="#000" stroke-width="1.0" stroke-linecap="round"/>
<line x1="448.6" y1="135.2" x2="441" y2="132" stroke="#000" stroke-width="1.0" stroke-linecap="round"/>
<path d="M469.0,136.0C470.2,136.3 473.8,136.8 476.0,138.0C478.2,139.2 481.2,140.7 482.0,143.0C482.8,145.3 481.8,149.2 481.0,152.0C480.2,154.8 478.7,157.5 477.0,160.0C475.3,162.5 472.0,165.8 471.0,167.0" fill="#fff" stroke="#000" stroke-width="1.0"/>
<ellipse cx="464.5" cy="152" rx="9.6" ry="15.9" transform="rotate(-15 464.5 152)" fill="#fff" stroke="#000" stroke-width="1.2"/>
<path d="M467.8,153 L465,152" stroke="none"/>
<ellipse cx="459.5" cy="153.2" rx="9.6" ry="15.9" transform="rotate(-15 459.5 153.2)" fill="#fff" stroke="#000" stroke-width="1.3"/>
<path d="M407,157 L430,149 L433,156 L410,164 Z" fill="#fff" stroke="#000" stroke-width="1.0"/>
<ellipse cx="408.5" cy="160.5" rx="2.5" ry="3.8" transform="rotate(-15 408.5 160.5)" fill="#fff" stroke="#000" stroke-width="1.0"/>
<ellipse cx="431" cy="152.5" rx="4.5" ry="6" transform="rotate(-15 431 152.5)" fill="#fff" stroke="#000" stroke-width="1.5"/>
<ellipse cx="431.5" cy="152.3" rx="2.5" ry="3.5" transform="rotate(-15 431.5 152.3)" fill="#fff" stroke="#000" stroke-width="1.0"/>
<path d="M372,203 L393,195 L396,202 L375,210 Z" fill="#fff" stroke="#000" stroke-width="1.0"/>
<ellipse cx="373.5" cy="206.5" rx="2.5" ry="3.8" transform="rotate(-15 373.5 206.5)" fill="#fff" stroke="#000" stroke-width="1.0"/>
<ellipse cx="394" cy="198.5" rx="4.5" ry="6" transform="rotate(-15 394 198.5)" fill="#fff" stroke="#000" stroke-width="1.5"/>
<ellipse cx="394.5" cy="198.3" rx="2.5" ry="3.5" transform="rotate(-15 394.5 198.3)" fill="#fff" stroke="#000" stroke-width="1.0"/>
<g><path d="M117.4,88.8 L148.0,108.7 L140.4,120.5 L109.8,100.6Z" fill="#fff" stroke="#000" stroke-width="1.2" stroke-linejoin="round"/>
<path d="M126.6,94.8 A2.2,7 33 0 1 119.0,106.6" fill="none" stroke="#000" stroke-width="0.8"/>
<path d="M130.0,97.0 A2.2,7 33 0 1 122.3,108.7" fill="none" stroke="#000" stroke-width="0.8"/>
<path d="M133.3,99.2 A2.2,7 33 0 1 125.7,110.9" fill="none" stroke="#000" stroke-width="0.8"/>
<path d="M136.7,101.4 A2.2,7 33 0 1 129.0,113.1" fill="none" stroke="#000" stroke-width="0.8"/>
<path d="M140.0,103.5 A2.2,7 33 0 1 132.4,115.3" fill="none" stroke="#000" stroke-width="0.8"/>
<path d="M143.4,105.7 A2.2,7 33 0 1 135.8,117.5" fill="none" stroke="#000" stroke-width="0.8"/>
<ellipse cx="144.2" cy="114.6" rx="3.8" ry="7" transform="rotate(33 144.2 114.6)" fill="#fff" stroke="#000" stroke-width="1.2"/>
<ellipse cx="144.4" cy="114.7" rx="1.8" ry="3.5" transform="rotate(33 144.4 114.7)" fill="#fff" stroke="#000" stroke-width="0.9"/>
<ellipse cx="108.7" cy="90.3" rx="17.5" ry="26.5" transform="rotate(33 108.7 90.3)" fill="#fff" stroke="#000" stroke-width="1.7"/>
<ellipse cx="106.5" cy="88.7" rx="16.8" ry="25.8" transform="rotate(33 106.5 88.7)" fill="#fff" stroke="#000" stroke-width="0.7"/>
<ellipse cx="104.3" cy="86.9" rx="16" ry="25.2" transform="rotate(33 104.3 86.9)" fill="#fff" stroke="#000" stroke-width="1.2"/>
<path d="M115.5,67.9C116.3,69.1 119.6,72.2 120.3,75.2C121.0,78.3 120.6,82.7 119.7,86.2C118.8,89.7 117.1,93.4 115.0,96.2C112.9,99.0 108.8,102.1 107.0,103.0C105.3,103.8 105.6,101.2 104.5,101.3C103.4,101.4 102.6,103.0 100.6,103.6C98.7,104.2 95.1,105.1 92.6,104.9C90.2,104.7 87.0,102.8 85.9,102.4" fill="none" stroke="#000" stroke-width="0.9"/>
<ellipse cx="96.6" cy="79.5" rx="8" ry="11" transform="rotate(33 96.6 79.5)" fill="#fff" stroke="#000" stroke-width="1.0"/>
<line x1="87.4" y1="85.5" x2="92.8" y2="93.7" stroke="#000" stroke-width="1.6" stroke-linecap="round"/>
<path d="M72.6,52.2 L99.8,69.9 L90.6,84.2 L63.3,66.5Z" fill="#fff" stroke="#000" stroke-width="1.3" stroke-linejoin="round"/>
<path d="M74.7,53.6 A2.6,8.5 33 0 1 65.4,67.9" fill="none" stroke="#000" stroke-width="1.0"/>
<path d="M77.6,55.5 A2.6,8.5 33 0 1 68.4,69.8" fill="none" stroke="#000" stroke-width="1.0"/>
<path d="M80.6,57.4 A2.6,8.5 33 0 1 71.3,71.7" fill="none" stroke="#000" stroke-width="1.0"/>
<path d="M83.5,59.3 A2.6,8.5 33 0 1 74.2,73.6" fill="none" stroke="#000" stroke-width="1.0"/>
<path d="M86.4,61.2 A2.6,8.5 33 0 1 77.2,75.5" fill="none" stroke="#000" stroke-width="1.0"/>
<path d="M89.4,63.1 A2.6,8.5 33 0 1 80.1,77.4" fill="none" stroke="#000" stroke-width="1.0"/>
<path d="M92.3,65.0 A2.6,8.5 33 0 1 83.0,79.3" fill="none" stroke="#000" stroke-width="1.0"/>
<path d="M95.2,66.9 A2.6,8.5 33 0 1 86.0,81.2" fill="none" stroke="#000" stroke-width="1.0"/>
<path d="M98.2,68.8 A2.6,8.5 33 0 1 88.9,83.1" fill="none" stroke="#000" stroke-width="1.0"/>
<ellipse cx="95.6" cy="77.3" rx="3" ry="8.8" transform="rotate(33 95.6 77.3)" fill="none" stroke="#000" stroke-width="1.8"/>
<ellipse cx="68.0" cy="59.4" rx="4.8" ry="8.6" transform="rotate(33 68.0 59.4)" fill="#fff" stroke="#000" stroke-width="1.4"/>
<ellipse cx="67.5" cy="59.1" rx="3.2" ry="6.5" transform="rotate(33 67.5 59.1)" fill="#fff" stroke="#000" stroke-width="0.8"/>
</g>
<path d="M201.0,38.0C198.8,40.0 191.5,46.0 188.0,50.0C184.5,54.0 181.7,58.0 180.0,62.0C178.3,66.0 177.5,69.7 178.0,74.0C178.5,78.3 179.8,84.2 183.0,88.0C186.2,91.8 191.7,94.7 197.0,97.0C202.3,99.3 207.8,99.5 215.0,102.0C222.2,104.5 233.3,108.7 240.0,112.0C246.7,115.3 251.2,118.7 255.0,122.0C258.8,125.3 260.9,128.7 262.5,132.0C264.1,135.3 264.9,139.0 264.5,142.0C264.1,145.0 262.9,145.2 260.0,150.0C257.1,154.8 249.2,167.5 247.0,171.0" fill="none" stroke="#000" stroke-width="13.0" stroke-linecap="butt" stroke-linejoin="round"/>
<path d="M201.0,38.0C198.8,40.0 191.5,46.0 188.0,50.0C184.5,54.0 181.7,58.0 180.0,62.0C178.3,66.0 177.5,69.7 178.0,74.0C178.5,78.3 179.8,84.2 183.0,88.0C186.2,91.8 191.7,94.7 197.0,97.0C202.3,99.3 207.8,99.5 215.0,102.0C222.2,104.5 233.3,108.7 240.0,112.0C246.7,115.3 251.2,118.7 255.0,122.0C258.8,125.3 260.9,128.7 262.5,132.0C264.1,135.3 264.9,139.0 264.5,142.0C264.1,145.0 262.9,145.2 260.0,150.0C257.1,154.8 249.2,167.5 247.0,171.0" fill="none" stroke="#fff" stroke-width="10.8" stroke-linecap="butt" stroke-linejoin="round"/>
<line x1="180" y1="49.7" x2="188" y2="58" stroke="#000" stroke-width="0.8" stroke-linecap="round"/>
<line x1="194.7" y1="86.3" x2="191" y2="98.5" stroke="#000" stroke-width="0.8" stroke-linecap="round"/>
<line x1="251.3" y1="111" x2="246.6" y2="122.5" stroke="#000" stroke-width="0.8" stroke-linecap="round"/>
<line x1="254.5" y1="145.5" x2="265.5" y2="152.5" stroke="#000" stroke-width="0.9" stroke-linecap="round"/>
<path d="M206.0,106.0 L212.0,89.0 L223.0,93.0 L217.0,111.0Z" fill="#fff" stroke="#000" stroke-width="1.4" stroke-linejoin="round"/>
<path d="M209.0,107.0 L215.0,90.0" fill="#fff" stroke="#000" stroke-width="0.9" stroke-linejoin="round"/>
<path d="M214.0,109.0 L220.0,92.0" fill="#fff" stroke="#000" stroke-width="0.9" stroke-linejoin="round"/>
<path d="M185.6,20.6C186.3,19.5 191.8,13.8 193.1,13.1C194.3,12.4 196.9,13.0 198.1,13.4C199.3,13.8 203.5,15.2 205.0,16.9C206.5,18.6 212.3,28.4 213.1,30.0C213.8,31.6 213.1,32.3 212.5,33.1C211.9,33.9 208.1,37.2 207.5,38.1C206.9,39.0 206.7,42.5 206.2,42.5C205.8,42.5 204.2,38.9 203.1,38.1C202.0,37.3 196.9,35.1 195.6,34.4C194.3,33.7 191.0,32.2 190.0,31.2C189.0,30.2 186.0,25.5 185.6,24.4C185.2,23.3 184.8,21.7 185.6,20.6Z" fill="#fff" stroke="#000" stroke-width="2.0"/>
<path d="M186.5,21 L193,14.5 L199,15.5 L202.5,22 L198.5,31 L191,30 Z" fill="#000" stroke="#000" stroke-width="1.2"/>
<path d="M190,22 L194,19 L196,21 L192,25Z M195,24 L199,22 L199.5,25 L196,27Z M189,27 L192,26 L193,28.5 L190,29Z M193,16.5 L197,16.5 L196,18 L193,18Z" fill="#fff"/>
<path d="M199,29 L205,25 L211.5,32 L206,37.5 L200,34 Z" fill="#000"/>
<path d="M201,30.5 L205.5,28 L207,30.5 L202.5,33Z" fill="#fff"/>
<path d="M208,29.5 C209.5,31 209.5,33.5 208,35" fill="none" stroke="#fff" stroke-width="1"/>
<line x1="196" y1="35.5" x2="207" y2="28.5" stroke="#000" stroke-width="1.2" stroke-linecap="round"/>
<path d="M219,168 L223,159.5 L230,158 L236,162 L233,172 L226,177 L219,175 Z" fill="#fff" stroke="#000" stroke-width="2.2" stroke-linejoin="round"/>
<path d="M221.5,165.5 L224.5,161.5 L228,162.5 L225.5,167.5 Z" fill="#fff" stroke="#000" stroke-width="1.3"/>
<path d="M220,170 L226,172 L225,175.5 L219.5,174 Z" fill="#000"/>
<path d="M233,163 L243,168 L246,178 L240,182.5 L231,178 Z" fill="#fff" stroke="#000" stroke-width="1.6" stroke-linejoin="round"/>
<path d="M235,164.0 C237.5,168.0 237,175.0 234.5,179.5" fill="none" stroke="#000" stroke-width="1.5"/>
<path d="M238,165.5 C240.5,169.5 240,176.5 237.5,180.7" fill="none" stroke="#000" stroke-width="1.5"/>
<path d="M241,167.0 C243.5,171.0 243,178.0 240.5,181.9" fill="none" stroke="#000" stroke-width="1.5"/>
<path d="M243,171 L250,173.5 L251,179 L245,181.5 L241,180 Z" fill="#fff" stroke="#000" stroke-width="1.3" stroke-linejoin="round"/>
<path d="M337.0,121.0 L346.0,118.5 L349.5,123.0 L350.0,131.0 L346.0,134.5 L338.0,135.5Z" fill="#fff" stroke="#000" stroke-width="1.3" stroke-linejoin="round"/>
<line x1="339.5" y1="119.5" x2="340.0" y2="135" stroke="#000" stroke-width="1.1" stroke-linecap="round"/>
<line x1="341.5" y1="119.5" x2="342.0" y2="135" stroke="#000" stroke-width="1.1" stroke-linecap="round"/>
<line x1="343.5" y1="119.5" x2="344.0" y2="135" stroke="#000" stroke-width="1.1" stroke-linecap="round"/>
<line x1="345.5" y1="119.5" x2="346.0" y2="135" stroke="#000" stroke-width="1.1" stroke-linecap="round"/>
<ellipse cx="348" cy="127" rx="2.3" ry="6.8" transform="rotate(0 348 127)" fill="#fff" stroke="#000" stroke-width="1.2"/>
<path d="M288.8,126.9 L308.8,121.2 L327.5,116.2 L335.0,120.0 L338.1,121.9 L341.2,141.2 L321.2,149.4 L317.5,148.8 L301.2,145.0 L292.5,142.5 L289.4,135.0Z" fill="#fff" stroke="#000" stroke-width="1.5" stroke-linejoin="round"/>
<path d="M320.0,128.0 L338.0,121.5 L341.2,141.2 L321.5,149.0Z" fill="#fff" stroke="#000" stroke-width="1.3" stroke-linejoin="round"/>
<path d="M322,131 L338,125 L340,140 L323,147Z" fill="#000"/>
<path d="M323.5,133.5 L328,132 L328.5,135 L324,136.5Z M324,140 L329,138.5 L329.5,141 L324.5,142.5Z M332,137 L337,135.5 L337.5,138 L332.5,139.5Z M331,131 L335,129.5 L335.3,131.5 L331.3,133Z" fill="#fff"/>
<line x1="308.75" y1="121.25" x2="320" y2="128" stroke="#000" stroke-width="1.2" stroke-linecap="round"/>
<line x1="327.5" y1="116.25" x2="338" y2="121.5" stroke="#000" stroke-width="1.2" stroke-linecap="round"/>
<line x1="300" y1="123.5" x2="318" y2="118.5" stroke="#000" stroke-width="0.8" stroke-linecap="round"/>
<line x1="296" y1="125" x2="314" y2="120" stroke="#000" stroke-width="0.8" stroke-linecap="round"/>
<path d="M289.0,128.5 L301.0,125.5 L304.0,143.0 L293.0,142.0Z" fill="#fff" stroke="#000" stroke-width="1.5" stroke-linejoin="round"/>
<ellipse cx="296.5" cy="135" rx="4.2" ry="6" transform="rotate(-10 296.5 135)" fill="#fff" stroke="#000" stroke-width="1.3"/>
<path d="M291,129.5 L300,127" stroke="#000" stroke-width="1.6"/>
<path d="M302.0,133.0 L315.0,129.0 L316.0,133.0 L303.0,137.0Z" fill="#fff" stroke="#000" stroke-width="1.0" stroke-linejoin="round"/>
<path d="M303.0,139.0 L317.0,135.0 L317.5,140.0 L304.0,144.0Z" fill="#fff" stroke="#000" stroke-width="1.0" stroke-linejoin="round"/>
<path d="M311.0,146.0 L316.0,145.0 L317.0,149.0 L312.0,150.0Z" fill="#fff" stroke="#000" stroke-width="1.0" stroke-linejoin="round"/>
<path d="M316,146 L319,147" stroke="#000" stroke-width="1.5"/>
<path d="M358.0,170.7 L364.5,174.9 L364.5,183.4 L358.0,187.7 L351.5,183.4 L351.5,174.9Z" fill="#fff" stroke="#000" stroke-width="1.1" stroke-linejoin="round"/>
<ellipse cx="355.3" cy="179.7" rx="4.8" ry="7.5" transform="rotate(-10 355.3 179.7)" fill="#fff" stroke="#000" stroke-width="1.1"/>
<ellipse cx="354.8" cy="179.7" rx="2.4" ry="4.0" transform="rotate(-10 354.8 179.7)" fill="#fff" stroke="#000" stroke-width="1.3"/>
<line x1="357.8" y1="171.2" x2="357.8" y2="187.7" stroke="#000" stroke-width="0.6" stroke-linecap="round"/>
<path d="M353.2,206.7 L359.4,210.8 L359.4,218.8 L353.2,222.9 L347.0,218.8 L347.0,210.8Z" fill="#fff" stroke="#000" stroke-width="1.1" stroke-linejoin="round"/>
<ellipse cx="350.5" cy="215.3" rx="4.56" ry="7.125" transform="rotate(-10 350.5 215.3)" fill="#fff" stroke="#000" stroke-width="1.1"/>
<ellipse cx="350" cy="215.3" rx="2.28" ry="3.8" transform="rotate(-10 350 215.3)" fill="#fff" stroke="#000" stroke-width="1.3"/>
<line x1="353" y1="207.2" x2="353" y2="222.9" stroke="#000" stroke-width="0.6" stroke-linecap="round"/>
<g transform="translate(-0.5,1.5)"><path d="M603.0,131.0 L606.0,128.0 L608.0,129.0 L607.5,143.5 L604.0,145.0 L602.5,139.0Z" fill="#fff" stroke="#000" stroke-width="1.2" stroke-linejoin="round"/>
<path d="M607.0,127.5 L617.5,124.5 L619.5,141.5 L608.0,145.0Z" fill="#fff" stroke="#000" stroke-width="1.3" stroke-linejoin="round"/>
<path d="M609.5,131.0 L613.0,130.0 L614.0,140.5 L610.5,141.5Z" fill="#fff" stroke="#000" stroke-width="1.0" stroke-linejoin="round"/>
<path d="M613.0,126.0 L614.5,122.5 L618.5,121.5 L619.5,124.5 L617.5,126.0Z" fill="#fff" stroke="#000" stroke-width="1.2" stroke-linejoin="round"/>
<line x1="608" y1="143" x2="619.5" y2="140" stroke="#000" stroke-width="1.8" stroke-linecap="round"/>
<line x1="604" y1="133" x2="605" y2="142" stroke="#000" stroke-width="0.8" stroke-linecap="round"/>
</g><path d="M96.4,657.2 L106.2,652.9 L115.5,651.5 L116.0,631.0 L116.6,627.7 L119.9,624.4 L135.2,621.7 L153.3,631.0 L154.4,634.3 L150.0,636.0 L150.0,626.1 L167.6,627.9 L172.3,622.6 L175.8,617.3 L182.8,613.2 L188.7,612.0 L213.3,621.4 L216.8,626.1 L218.6,640.2 L217.4,643.7 L208.6,646.0 L206.3,642.5 L205.7,634.3 L204.0,627.9 L188.7,620.2 L188.1,635.5 L185.2,643.7 L180.5,648.4 L165.2,650.1 L162.0,663.8 L157.6,664.9 L151.1,669.3 L147.8,673.6 L143.4,675.8 L139.0,673.6 L136.9,667.0 L138.0,659.4 L135.8,656.1 L119.4,659.4 L116.6,665.0 L116.0,672.5 L113.9,678.0 L109.5,679.0 L106.2,675.8 L101.8,669.3 L98.6,668.2 L95.3,667.0Z" fill="#fff" stroke="#000" stroke-width="1.3" stroke-linejoin="round"/>
<path class="o" d="M118.8,656.0C122.2,655.3 131.8,653.4 139.0,651.8C146.2,650.2 156.3,647.6 162.0,646.3C167.7,644.9 169.7,644.5 173.4,643.7C177.1,642.9 182.2,641.7 184.0,641.3" />
<path class="t" d="M140.0,645.2L162.0,642.0" />
<path class="t" d="M150.0,644.9L160.6,646.0" />
<line x1="160.6" y1="628.4" x2="161.1" y2="646" stroke="#000" stroke-width="0.9" stroke-linecap="round"/>
<line x1="169.3" y1="628.4" x2="170" y2="644.9" stroke="#000" stroke-width="0.9" stroke-linecap="round"/>
<line x1="184" y1="613.2" x2="185.2" y2="642.5" stroke="#000" stroke-width="1.0" stroke-linecap="round"/>
<path d="M187.5,620.2 L188.7,642.5" stroke="#000" stroke-width="2.0"/>
<path class="t" d="M185.2,614.4L213.3,622.6" />
<path class="t" d="M186.3,619.1C189.4,620.2 201.6,623.2 205.1,625.5C208.6,627.8 205.4,631.6 207.4,633.1C209.4,634.6 215.2,634.1 216.8,634.3" />
<path class="t" d="M140.0,638.6C141.1,636.8 145.0,629.8 146.7,627.7C148.4,625.6 149.4,626.4 150.0,626.1" />
<line x1="138" y1="638.6" x2="139" y2="651.8" stroke="#000" stroke-width="0.9" stroke-linecap="round"/>
<line x1="116" y1="631" x2="115.5" y2="660.5" stroke="#000" stroke-width="1.1" stroke-linecap="round"/>
<path d="M118.8,633 L118.3,659.4" stroke="#000" stroke-width="1.6"/>
<path class="t" d="M96.4,659.0C98.0,658.5 103.1,655.8 106.0,656.0C108.9,656.2 112.8,658.5 114.0,660.0C115.2,661.5 114.7,663.7 113.0,665.0C111.3,666.3 106.7,668.2 104.0,668.0C101.3,667.8 98.2,664.7 97.0,664.0" />
<line x1="95.5" y1="660" x2="96" y2="667" stroke="#000" stroke-width="1.8" stroke-linecap="round"/>
<path d="M116.6,627.7 L119.9,624.4 L135.2,621.7 L153.3,631.0 L154.4,634.3 L144.5,637.0 L130.3,638.0 L117.7,631.0Z" fill="#fff" stroke="#000" stroke-width="1.3" stroke-linejoin="round"/>
<path class="t" d="M118.0,629.0C120.2,629.8 126.5,633.2 131.0,634.0C135.5,634.8 141.2,633.8 145.0,633.5C148.8,633.2 152.5,632.7 154.0,632.5" />
<line x1="131" y1="634" x2="130.3" y2="638" stroke="#000" stroke-width="0.8" stroke-linecap="round"/>
<line x1="145" y1="633.5" x2="144.5" y2="637" stroke="#000" stroke-width="0.8" stroke-linecap="round"/>
<ellipse cx="139.6" cy="628.2" rx="1.6" ry="1" transform="rotate(0 139.6 628.2)" fill="#fff" stroke="#000" stroke-width="0.9"/>
<ellipse cx="111" cy="674.2" rx="2.04" ry="2.88" transform="rotate(-20 111 674.2)" fill="#fff" stroke="#000" stroke-width="1.1"/>
<ellipse cx="111" cy="674.2" rx="0.84" ry="1.2" transform="rotate(-20 111 674.2)" fill="#fff" stroke="#000" stroke-width="0.9"/>
<ellipse cx="144" cy="669.3" rx="2.04" ry="2.88" transform="rotate(-20 144 669.3)" fill="#fff" stroke="#000" stroke-width="1.1"/>
<ellipse cx="144" cy="669.3" rx="0.84" ry="1.2" transform="rotate(-20 144 669.3)" fill="#fff" stroke="#000" stroke-width="0.9"/>
<ellipse cx="212.1" cy="639.6" rx="1.7" ry="2.4" transform="rotate(-20 212.1 639.6)" fill="#fff" stroke="#000" stroke-width="1.1"/>
<ellipse cx="212.1" cy="639.6" rx="0.7" ry="1.0" transform="rotate(-20 212.1 639.6)" fill="#fff" stroke="#000" stroke-width="0.9"/>
<path d="M118.0,682.5 L133.0,691.5 L130.5,697.5 L115.5,688.0Z" fill="#fff" stroke="#000" stroke-width="1.1" stroke-linejoin="round"/>
<ellipse cx="116.7" cy="685.3" rx="2" ry="3.2" transform="rotate(-55 116.7 685.3)" fill="#fff" stroke="#000" stroke-width="1.0"/>
<path d="M141.0,697.3 L137.8,703.4 L131.2,703.4 L128.0,697.3 L131.2,691.2 L137.8,691.2Z" fill="#fff" stroke="#000" stroke-width="1.2" stroke-linejoin="round"/>
<ellipse cx="134.5" cy="697.5" rx="4.5" ry="5" transform="rotate(0 134.5 697.5)" fill="#fff" stroke="#000" stroke-width="1.0"/>
<line x1="129" y1="694" x2="134" y2="690.5" stroke="#000" stroke-width="0.8" stroke-linecap="round"/>
<line x1="134" y1="690.5" x2="140" y2="693" stroke="#000" stroke-width="0.8" stroke-linecap="round"/>
<path d="M226.6,698.0 L224.7,729.4 L233.0,737.0 L251.9,738.8 L270.6,733.0 L275.3,697.0Z" fill="#fff" stroke="#000" stroke-width="1.2" stroke-linejoin="round"/>
<path class="t" d="M224.7,729.4C226.1,730.4 228.5,734.2 233.0,735.5C237.5,736.8 245.6,737.9 251.9,737.2C258.2,736.6 267.5,732.5 270.6,731.6" />
<line x1="262" y1="701" x2="258" y2="736" stroke="#000" stroke-width="0.8" stroke-linecap="round"/>
<path d="M239.0,737.5 L240.0,745.0 L246.0,748.5 L252.0,746.0 L253.5,737.5Z" fill="#fff" stroke="#000" stroke-width="1.2" stroke-linejoin="round"/>
<line x1="239.5" y1="741" x2="253" y2="741" stroke="#000" stroke-width="0.8" stroke-linecap="round"/>
<path class="o" d="M225.8,698.0C230.1,698.6 243.4,701.5 251.6,701.5C259.8,701.5 271.1,698.6 275.0,698.0" />
<path class="t" d="M226.0,702.0C230.3,702.5 243.4,705.1 251.6,705.0C259.8,704.9 271.1,702.1 275.0,701.5" />
<path d="M236.0,672.0 L290.0,668.0 L292.0,690.0 L276.0,697.0 L251.6,699.0 L230.0,696.0Z" fill="#fff" stroke="#000" stroke-width="1.2" stroke-linejoin="round"/>
<path class="t" d="M241.0,676.0C244.5,676.3 254.0,678.2 262.0,678.0C270.0,677.8 284.5,675.5 289.0,675.0" />
<path class="o" d="M238.0,686.0C241.3,686.5 250.5,689.0 258.0,689.0C265.5,689.0 278.8,686.5 283.0,686.0" />
<path class="t" d="M238.0,690.0C241.3,690.5 250.5,693.0 258.0,693.0C265.5,693.0 278.8,690.5 283.0,690.0" />
<path d="M244.0,676.0 L253.0,677.0 L253.0,686.0 L244.0,685.0Z" fill="#fff" stroke="#000" stroke-width="0.8" stroke-linejoin="round"/>
<path d="M262.0,678.0 L275.0,677.0 L275.0,687.0 L262.0,688.0Z" fill="#fff" stroke="#000" stroke-width="0.8" stroke-linejoin="round"/>
<line x1="268" y1="679" x2="268" y2="688" stroke="#000" stroke-width="0.7" stroke-linecap="round"/>
<path d="M230.0,632.0C231.6,629.0 233.5,627.3 238.0,626.0C242.5,624.7 250.7,624.0 257.0,624.0C263.3,624.0 271.2,624.7 276.0,626.0C280.8,627.3 284.0,629.7 286.0,632.0C288.0,634.3 287.8,634.5 288.0,640.0C288.2,645.5 288.8,660.0 287.0,665.0C285.2,670.0 281.5,668.8 277.0,670.0C272.5,671.2 265.7,672.0 260.0,672.0C254.3,672.0 248.4,671.2 243.0,670.0C237.6,668.8 229.9,669.3 227.5,665.0C225.1,660.7 228.0,649.5 228.4,644.0C228.8,638.5 228.4,635.0 230.0,632.0Z" fill="#fff" stroke="#000" stroke-width="1.3"/>
<ellipse cx="258.5" cy="634.5" rx="21" ry="7.3" transform="rotate(4 258.5 634.5)" fill="#fff" stroke="#000" stroke-width="1.1"/>
<path class="t" d="M228.4,662.3C230.8,663.3 237.7,667.0 243.0,668.5C248.3,670.0 254.3,671.0 260.0,671.0C265.7,671.0 273.0,669.7 277.3,668.5C281.6,667.3 284.6,664.6 286.0,663.8" />
<path class="h" d="M231.0,669.5C235.8,670.3 250.6,674.1 260.0,674.4C269.4,674.6 283.1,671.6 287.7,671.0" />
<path class="t" d="M231.0,671.5C235.8,672.3 250.6,676.1 260.0,676.4C269.4,676.6 283.1,673.6 287.7,673.0" />
<line x1="276.5" y1="638" x2="276" y2="666" stroke="#000" stroke-width="0.8" stroke-linecap="round"/>
<path d="M207.0,671.0 L214.0,667.0 L232.0,668.0 L243.0,675.0 L241.0,686.0 L232.0,688.0 L212.0,684.0 L206.0,677.0Z" fill="#fff" stroke="#000" stroke-width="1.2" stroke-linejoin="round"/>
<line x1="208" y1="675" x2="238" y2="679" stroke="#000" stroke-width="0.9" stroke-linecap="round"/>
<line x1="210" y1="681" x2="236" y2="684" stroke="#000" stroke-width="0.8" stroke-linecap="round"/>
<path d="M210.0,669.0 L220.0,665.0 L232.0,667.0 L233.0,672.0 L222.0,676.0 L211.0,674.0Z" fill="#fff" stroke="#000" stroke-width="1.1" stroke-linejoin="round"/>
<path d="M229.0,667.0 L225.8,670.5 L219.2,670.5 L216.0,667.0 L219.2,663.5 L225.8,663.5Z" fill="#fff" stroke="#000" stroke-width="1.0" stroke-linejoin="round"/>
<path d="M229.0,662.0 L225.8,665.5 L219.2,665.5 L216.0,662.0 L219.2,658.5 L225.8,658.5Z" fill="#fff" stroke="#000" stroke-width="1.1" stroke-linejoin="round"/>
<line x1="216" y1="662" x2="216" y2="667" stroke="#000" stroke-width="1.0" stroke-linecap="round"/>
<line x1="229" y1="662" x2="229" y2="667" stroke="#000" stroke-width="1.0" stroke-linecap="round"/>
<line x1="222.5" y1="658" x2="222.5" y2="671" stroke="#000" stroke-width="0.7" stroke-linecap="round"/>
<ellipse cx="222.5" cy="657.5" rx="3.5" ry="2" transform="rotate(0 222.5 657.5)" fill="#fff" stroke="#000" stroke-width="1.0"/>
<path d="M284.0,657.0 L297.0,655.0 L303.0,661.0 L302.0,668.0 L292.0,673.0 L285.0,672.0Z" fill="#fff" stroke="#000" stroke-width="1.2" stroke-linejoin="round"/>
<line x1="286" y1="662" x2="302" y2="660" stroke="#000" stroke-width="0.8" stroke-linecap="round"/>
<path d="M296.5,654.5 L293.8,657.5 L288.2,657.5 L285.5,654.5 L288.2,651.5 L293.8,651.5Z" fill="#fff" stroke="#000" stroke-width="1.0" stroke-linejoin="round"/>
<path d="M296.5,650.0 L293.8,653.0 L288.2,653.0 L285.5,650.0 L288.2,647.0 L293.8,647.0Z" fill="#fff" stroke="#000" stroke-width="1.1" stroke-linejoin="round"/>
<line x1="285.5" y1="650" x2="285.5" y2="654.5" stroke="#000" stroke-width="1.0" stroke-linecap="round"/>
<line x1="296.5" y1="650" x2="296.5" y2="654.5" stroke="#000" stroke-width="1.0" stroke-linecap="round"/>
<ellipse cx="291" cy="646.5" rx="3" ry="1.8" transform="rotate(0 291 646.5)" fill="#fff" stroke="#000" stroke-width="1.0"/>
<path d="M277.0,681.0 L294.0,683.5 L297.0,694.0 L279.0,694.0Z" fill="#fff" stroke="#000" stroke-width="1.2" stroke-linejoin="round"/>
<ellipse cx="294.5" cy="689" rx="3.2" ry="5.2" transform="rotate(-15 294.5 689)" fill="#fff" stroke="#000" stroke-width="1.3"/>
<ellipse cx="294.6" cy="689" rx="1.5" ry="2.5" transform="rotate(-15 294.6 689)" fill="#fff" stroke="#000" stroke-width="0.8"/>
<ellipse cx="277.5" cy="686.5" rx="4.5" ry="7.5" transform="rotate(-10 277.5 686.5)" fill="#fff" stroke="#000" stroke-width="1.6"/>
<ellipse cx="277.8" cy="686.5" rx="2.5" ry="5" transform="rotate(-10 277.8 686.5)" fill="#fff" stroke="#000" stroke-width="0.9"/>
<path d="M249.8,686.4C249.2,687.3 249.0,689.9 246.4,691.6C243.8,693.3 239.3,696.4 234.4,696.7C229.5,697.0 221.6,695.0 217.0,693.3C212.4,691.6 209.8,688.7 207.0,686.4C204.2,684.1 202.3,682.7 200.0,679.5C197.7,676.3 196.3,669.8 193.0,667.0C189.7,664.2 184.3,662.6 180.0,662.5C175.7,662.4 170.5,664.1 167.0,666.5C163.5,668.9 160.6,673.4 159.0,677.0C157.4,680.6 157.2,684.7 157.5,688.0C157.8,691.3 160.0,695.5 160.5,697.0" fill="none" stroke="#000" stroke-width="6.8" stroke-linecap="butt" stroke-linejoin="round"/>
<path d="M249.8,686.4C249.2,687.3 249.0,689.9 246.4,691.6C243.8,693.3 239.3,696.4 234.4,696.7C229.5,697.0 221.6,695.0 217.0,693.3C212.4,691.6 209.8,688.7 207.0,686.4C204.2,684.1 202.3,682.7 200.0,679.5C197.7,676.3 196.3,669.8 193.0,667.0C189.7,664.2 184.3,662.6 180.0,662.5C175.7,662.4 170.5,664.1 167.0,666.5C163.5,668.9 160.6,673.4 159.0,677.0C157.4,680.6 157.2,684.7 157.5,688.0C157.8,691.3 160.0,695.5 160.5,697.0" fill="none" stroke="#fff" stroke-width="4.4" stroke-linecap="butt" stroke-linejoin="round"/>
<line x1="246" y1="688" x2="252" y2="686" stroke="#000" stroke-width="0.9" stroke-linecap="round"/>
<path d="M152.3,705.8 L157.9,698.0 L170.8,692.9 L179.4,692.0 L181.1,696.3 L178.5,700.6 L187.1,703.2 L188.0,708.4 L185.4,711.0 L190.5,717.0 L188.0,723.0 L168.2,731.6 L163.9,731.6 L157.9,721.2 L159.6,716.1 L153.6,710.1Z" fill="#fff" stroke="#000" stroke-width="1.8" stroke-linejoin="round"/>
<path d="M152.5,706 L158,698.5 L163,697 L166,702 L161,716 L157,712 Z" fill="#000"/>
<path d="M156,705 L158.5,702 L160,706 L158,708Z M158,711 L160,709 L161,712 L159.5,714Z" fill="#fff"/>
<path d="M162.0,697.0 L171.0,693.5 L185.5,715.0 L175.0,720.5Z" fill="#fff" stroke="#000" stroke-width="1.0" stroke-linejoin="round"/>
<line x1="165.5" y1="696" x2="178.5" y2="718.5" stroke="#000" stroke-width="1.0" stroke-linecap="round"/>
<line x1="169" y1="694.7" x2="182" y2="717" stroke="#000" stroke-width="1.0" stroke-linecap="round"/>
<line x1="172.5" y1="694.5" x2="184.5" y2="715.5" stroke="#000" stroke-width="0.9" stroke-linecap="round"/>
<path d="M175,720.5 L185.5,715 L188,719 L178,724 Z" fill="#000"/>
<path d="M158.0,721.0 L175.0,714.5 L178.0,724.0 L168.5,731.0Z" fill="#fff" stroke="#000" stroke-width="1.1" stroke-linejoin="round"/>
<line x1="170" y1="724" x2="176" y2="730" stroke="#000" stroke-width="1.0" stroke-linecap="round"/>
<line x1="173.5" y1="722.5" x2="180" y2="728.5" stroke="#000" stroke-width="1.0" stroke-linecap="round"/>
<line x1="177" y1="722" x2="183.5" y2="726.5" stroke="#000" stroke-width="1.0" stroke-linecap="round"/>
<path d="M178,724 L188,719.5 L188,723 L168.5,731.5 L170,728 Z" fill="#000" opacity="0.9"/>
<ellipse cx="178.5" cy="694.5" rx="2.6" ry="2.2" transform="rotate(-30 178.5 694.5)" fill="#fff" stroke="#000" stroke-width="1.3"/>
<ellipse cx="185.8" cy="705.5" rx="2.6" ry="2.2" transform="rotate(-30 185.8 705.5)" fill="#fff" stroke="#000" stroke-width="1.3"/>
<line x1="176" y1="697" x2="181" y2="700" stroke="#000" stroke-width="1.2" stroke-linecap="round"/>
<line x1="183.5" y1="708" x2="188" y2="711" stroke="#000" stroke-width="1.2" stroke-linecap="round"/>
<g class="lb">
<line class="ln" x1="94" y1="117" x2="94.5" y2="127"/>
<rect x="83" y="127.5" width="25" height="24.5"/><text x="95.5" y="145">5</text>
<line class="ln" x1="193.5" y1="104.5" x2="194" y2="116"/>
<rect x="182" y="116.3" width="24.5" height="24.5"/><text x="194.3" y="134">6</text>
<line class="ln" x1="403.5" y1="47" x2="403" y2="59"/>
<rect x="392.5" y="22" width="25" height="24.5"/><text x="405" y="39.5">1</text>
<line class="ln" x1="318.5" y1="106" x2="318" y2="115"/>
<rect x="306.5" y="81" width="25" height="24.5"/><text x="319" y="98.5">4</text>
<line class="ln" x1="341" y1="180.7" x2="344.5" y2="180.7"/>
<rect x="316" y="169" width="25" height="24.5"/><text x="328.5" y="186.5">3</text>
<line class="ln" x1="338" y1="217.2" x2="341" y2="217.2"/>
<rect x="312.5" y="205.5" width="25" height="24.5"/><text x="325" y="223">3</text>
<line class="ln" x1="610" y1="152" x2="610" y2="162"/>
<rect x="598.5" y="162.5" width="25" height="24.5"/><text x="611" y="180">2</text>
<line class="ln" x1="131" y1="268.5" x2="136" y2="268.5"/>
<rect x="105.5" y="257.5" width="25" height="24.5"/><text x="118" y="275">7</text>
<line class="ln" x1="253" y1="355" x2="262" y2="355"/>
<rect x="227.5" y="343" width="25" height="24.5"/><text x="240" y="360.5">8</text>
<line class="ln" x1="65" y1="392" x2="72" y2="392"/>
<rect x="39.5" y="379.5" width="25" height="24.5"/><text x="52" y="397">9</text>
<line class="ln" x1="83" y1="469" x2="91.5" y2="469"/>
<rect x="57" y="457" width="25" height="25"/><text x="69.5" y="474.5" style="letter-spacing:-1px">10</text>
<line class="ln" x1="122.7" y1="611" x2="122.7" y2="619"/>
<rect x="111" y="586" width="25" height="24.5"/><text x="123.5" y="603.5" style="letter-spacing:-1px">11</text>
<line class="ln" x1="291.5" y1="634.2" x2="304" y2="634.2"/>
<rect x="304" y="622.5" width="25" height="24.5"/><text x="316.5" y="640" style="letter-spacing:-1px">12</text>
<line class="ln" x1="135.8" y1="702" x2="136" y2="715"/>
<rect x="124" y="715" width="25" height="25"/><text x="136.5" y="733.5" style="letter-spacing:-1px">13</text>
</g>
</svg>
</body></html>
